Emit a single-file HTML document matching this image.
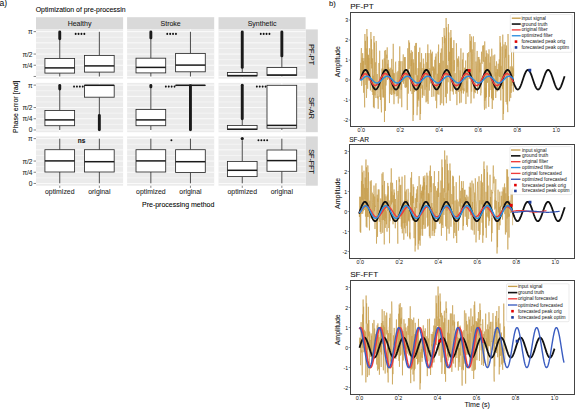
<!DOCTYPE html>
<html><head><meta charset="utf-8"><style>
html,body{margin:0;padding:0;background:#fff;overflow:hidden;}
svg{display:block;}
text{font-family:"Liberation Sans",sans-serif;}
</style></head><body>
<svg width="575" height="409" viewBox="0 0 575 409">
<rect width="575" height="409" fill="#fff"/>
<text stroke="#111" stroke-width="0.07" x="-0.4" y="5.6" font-size="8.5" font-family="Liberation Sans, sans-serif" fill="#111">a)</text>
<text stroke="#000" stroke-width="0.07" x="35.7" y="11.6" font-size="7" font-family="Liberation Sans, sans-serif" fill="#000" textLength="90" lengthAdjust="spacingAndGlyphs">Optimization of pre-processin</text>
<rect x="36" y="17.2" width="87.1" height="12.2" fill="#D9D9D9"/>
<text stroke="#1a1a1a" stroke-width="0.07" x="79.55" y="26.4" font-size="7" font-family="Liberation Sans, sans-serif" fill="#1a1a1a" text-anchor="middle">Healthy</text>
<rect x="127.1" y="17.2" width="87.1" height="12.2" fill="#D9D9D9"/>
<text stroke="#1a1a1a" stroke-width="0.07" x="170.65" y="26.4" font-size="7" font-family="Liberation Sans, sans-serif" fill="#1a1a1a" text-anchor="middle">Stroke</text>
<rect x="218.5" y="17.2" width="87.1" height="12.2" fill="#D9D9D9"/>
<text stroke="#1a1a1a" stroke-width="0.07" x="262.05" y="26.4" font-size="7" font-family="Liberation Sans, sans-serif" fill="#1a1a1a" text-anchor="middle">Synthetic</text>
<rect x="305.6" y="29.4" width="12.2" height="49.3" fill="#D9D9D9"/>
<text stroke="#111" stroke-width="0.07" x="311.7" y="54.65" font-size="7.2" font-family="Liberation Sans, sans-serif" fill="#111" text-anchor="middle" dominant-baseline="central" transform="rotate(90 311.7 54.65)">PF-PT</text>
<rect x="305.6" y="82.9" width="12.2" height="49.3" fill="#D9D9D9"/>
<text stroke="#111" stroke-width="0.07" x="311.7" y="108.15" font-size="7.2" font-family="Liberation Sans, sans-serif" fill="#111" text-anchor="middle" dominant-baseline="central" transform="rotate(90 311.7 108.15)">SF-AR</text>
<rect x="305.6" y="136.4" width="12.2" height="49.3" fill="#D9D9D9"/>
<text stroke="#111" stroke-width="0.07" x="311.7" y="161.65" font-size="7.2" font-family="Liberation Sans, sans-serif" fill="#111" text-anchor="middle" dominant-baseline="central" transform="rotate(90 311.7 161.65)">SF-FFT</text>
<rect x="36" y="29.4" width="87.1" height="49.3" fill="#EBEBEB"/>
<line x1="36" x2="123.1" y1="37.24" y2="37.24" stroke="#fff" stroke-width="0.5"/>
<line x1="36" x2="123.1" y1="48.45" y2="48.45" stroke="#fff" stroke-width="0.5"/>
<line x1="36" x2="123.1" y1="59.65" y2="59.65" stroke="#fff" stroke-width="0.5"/>
<line x1="36" x2="123.1" y1="70.86" y2="70.86" stroke="#fff" stroke-width="0.5"/>
<line x1="36" x2="123.1" y1="76.46" y2="76.46" stroke="#fff" stroke-width="0.8"/>
<line x1="36" x2="123.1" y1="65.25" y2="65.25" stroke="#fff" stroke-width="0.8"/>
<line x1="36" x2="123.1" y1="54.05" y2="54.05" stroke="#fff" stroke-width="0.8"/>
<line x1="36" x2="123.1" y1="42.85" y2="42.85" stroke="#fff" stroke-width="0.8"/>
<line x1="36" x2="123.1" y1="31.64" y2="31.64" stroke="#fff" stroke-width="0.8"/>
<line x1="59.75" x2="59.75" y1="29.4" y2="78.7" stroke="#fff" stroke-width="0.9"/>
<line x1="99.35" x2="99.35" y1="29.4" y2="78.7" stroke="#fff" stroke-width="0.9"/>
<rect x="127.1" y="29.4" width="87.1" height="49.3" fill="#EBEBEB"/>
<line x1="127.1" x2="214.2" y1="37.24" y2="37.24" stroke="#fff" stroke-width="0.5"/>
<line x1="127.1" x2="214.2" y1="48.45" y2="48.45" stroke="#fff" stroke-width="0.5"/>
<line x1="127.1" x2="214.2" y1="59.65" y2="59.65" stroke="#fff" stroke-width="0.5"/>
<line x1="127.1" x2="214.2" y1="70.86" y2="70.86" stroke="#fff" stroke-width="0.5"/>
<line x1="127.1" x2="214.2" y1="76.46" y2="76.46" stroke="#fff" stroke-width="0.8"/>
<line x1="127.1" x2="214.2" y1="65.25" y2="65.25" stroke="#fff" stroke-width="0.8"/>
<line x1="127.1" x2="214.2" y1="54.05" y2="54.05" stroke="#fff" stroke-width="0.8"/>
<line x1="127.1" x2="214.2" y1="42.85" y2="42.85" stroke="#fff" stroke-width="0.8"/>
<line x1="127.1" x2="214.2" y1="31.64" y2="31.64" stroke="#fff" stroke-width="0.8"/>
<line x1="150.85" x2="150.85" y1="29.4" y2="78.7" stroke="#fff" stroke-width="0.9"/>
<line x1="190.45" x2="190.45" y1="29.4" y2="78.7" stroke="#fff" stroke-width="0.9"/>
<rect x="218.5" y="29.4" width="87.1" height="49.3" fill="#EBEBEB"/>
<line x1="218.5" x2="305.6" y1="37.24" y2="37.24" stroke="#fff" stroke-width="0.5"/>
<line x1="218.5" x2="305.6" y1="48.45" y2="48.45" stroke="#fff" stroke-width="0.5"/>
<line x1="218.5" x2="305.6" y1="59.65" y2="59.65" stroke="#fff" stroke-width="0.5"/>
<line x1="218.5" x2="305.6" y1="70.86" y2="70.86" stroke="#fff" stroke-width="0.5"/>
<line x1="218.5" x2="305.6" y1="76.46" y2="76.46" stroke="#fff" stroke-width="0.8"/>
<line x1="218.5" x2="305.6" y1="65.25" y2="65.25" stroke="#fff" stroke-width="0.8"/>
<line x1="218.5" x2="305.6" y1="54.05" y2="54.05" stroke="#fff" stroke-width="0.8"/>
<line x1="218.5" x2="305.6" y1="42.85" y2="42.85" stroke="#fff" stroke-width="0.8"/>
<line x1="218.5" x2="305.6" y1="31.64" y2="31.64" stroke="#fff" stroke-width="0.8"/>
<line x1="242.25" x2="242.25" y1="29.4" y2="78.7" stroke="#fff" stroke-width="0.9"/>
<line x1="281.85" x2="281.85" y1="29.4" y2="78.7" stroke="#fff" stroke-width="0.9"/>
<rect x="36" y="82.9" width="87.1" height="49.3" fill="#EBEBEB"/>
<line x1="36" x2="123.1" y1="90.74" y2="90.74" stroke="#fff" stroke-width="0.5"/>
<line x1="36" x2="123.1" y1="101.95" y2="101.95" stroke="#fff" stroke-width="0.5"/>
<line x1="36" x2="123.1" y1="113.15" y2="113.15" stroke="#fff" stroke-width="0.5"/>
<line x1="36" x2="123.1" y1="124.36" y2="124.36" stroke="#fff" stroke-width="0.5"/>
<line x1="36" x2="123.1" y1="129.96" y2="129.96" stroke="#fff" stroke-width="0.8"/>
<line x1="36" x2="123.1" y1="118.75" y2="118.75" stroke="#fff" stroke-width="0.8"/>
<line x1="36" x2="123.1" y1="107.55" y2="107.55" stroke="#fff" stroke-width="0.8"/>
<line x1="36" x2="123.1" y1="96.35" y2="96.35" stroke="#fff" stroke-width="0.8"/>
<line x1="36" x2="123.1" y1="85.14" y2="85.14" stroke="#fff" stroke-width="0.8"/>
<line x1="59.75" x2="59.75" y1="82.9" y2="132.2" stroke="#fff" stroke-width="0.9"/>
<line x1="99.35" x2="99.35" y1="82.9" y2="132.2" stroke="#fff" stroke-width="0.9"/>
<rect x="127.1" y="82.9" width="87.1" height="49.3" fill="#EBEBEB"/>
<line x1="127.1" x2="214.2" y1="90.74" y2="90.74" stroke="#fff" stroke-width="0.5"/>
<line x1="127.1" x2="214.2" y1="101.95" y2="101.95" stroke="#fff" stroke-width="0.5"/>
<line x1="127.1" x2="214.2" y1="113.15" y2="113.15" stroke="#fff" stroke-width="0.5"/>
<line x1="127.1" x2="214.2" y1="124.36" y2="124.36" stroke="#fff" stroke-width="0.5"/>
<line x1="127.1" x2="214.2" y1="129.96" y2="129.96" stroke="#fff" stroke-width="0.8"/>
<line x1="127.1" x2="214.2" y1="118.75" y2="118.75" stroke="#fff" stroke-width="0.8"/>
<line x1="127.1" x2="214.2" y1="107.55" y2="107.55" stroke="#fff" stroke-width="0.8"/>
<line x1="127.1" x2="214.2" y1="96.35" y2="96.35" stroke="#fff" stroke-width="0.8"/>
<line x1="127.1" x2="214.2" y1="85.14" y2="85.14" stroke="#fff" stroke-width="0.8"/>
<line x1="150.85" x2="150.85" y1="82.9" y2="132.2" stroke="#fff" stroke-width="0.9"/>
<line x1="190.45" x2="190.45" y1="82.9" y2="132.2" stroke="#fff" stroke-width="0.9"/>
<rect x="218.5" y="82.9" width="87.1" height="49.3" fill="#EBEBEB"/>
<line x1="218.5" x2="305.6" y1="90.74" y2="90.74" stroke="#fff" stroke-width="0.5"/>
<line x1="218.5" x2="305.6" y1="101.95" y2="101.95" stroke="#fff" stroke-width="0.5"/>
<line x1="218.5" x2="305.6" y1="113.15" y2="113.15" stroke="#fff" stroke-width="0.5"/>
<line x1="218.5" x2="305.6" y1="124.36" y2="124.36" stroke="#fff" stroke-width="0.5"/>
<line x1="218.5" x2="305.6" y1="129.96" y2="129.96" stroke="#fff" stroke-width="0.8"/>
<line x1="218.5" x2="305.6" y1="118.75" y2="118.75" stroke="#fff" stroke-width="0.8"/>
<line x1="218.5" x2="305.6" y1="107.55" y2="107.55" stroke="#fff" stroke-width="0.8"/>
<line x1="218.5" x2="305.6" y1="96.35" y2="96.35" stroke="#fff" stroke-width="0.8"/>
<line x1="218.5" x2="305.6" y1="85.14" y2="85.14" stroke="#fff" stroke-width="0.8"/>
<line x1="242.25" x2="242.25" y1="82.9" y2="132.2" stroke="#fff" stroke-width="0.9"/>
<line x1="281.85" x2="281.85" y1="82.9" y2="132.2" stroke="#fff" stroke-width="0.9"/>
<rect x="36" y="136.4" width="87.1" height="49.3" fill="#EBEBEB"/>
<line x1="36" x2="123.1" y1="144.24" y2="144.24" stroke="#fff" stroke-width="0.5"/>
<line x1="36" x2="123.1" y1="155.45" y2="155.45" stroke="#fff" stroke-width="0.5"/>
<line x1="36" x2="123.1" y1="166.65" y2="166.65" stroke="#fff" stroke-width="0.5"/>
<line x1="36" x2="123.1" y1="177.86" y2="177.86" stroke="#fff" stroke-width="0.5"/>
<line x1="36" x2="123.1" y1="183.46" y2="183.46" stroke="#fff" stroke-width="0.8"/>
<line x1="36" x2="123.1" y1="172.25" y2="172.25" stroke="#fff" stroke-width="0.8"/>
<line x1="36" x2="123.1" y1="161.05" y2="161.05" stroke="#fff" stroke-width="0.8"/>
<line x1="36" x2="123.1" y1="149.85" y2="149.85" stroke="#fff" stroke-width="0.8"/>
<line x1="36" x2="123.1" y1="138.64" y2="138.64" stroke="#fff" stroke-width="0.8"/>
<line x1="59.75" x2="59.75" y1="136.4" y2="185.7" stroke="#fff" stroke-width="0.9"/>
<line x1="99.35" x2="99.35" y1="136.4" y2="185.7" stroke="#fff" stroke-width="0.9"/>
<rect x="127.1" y="136.4" width="87.1" height="49.3" fill="#EBEBEB"/>
<line x1="127.1" x2="214.2" y1="144.24" y2="144.24" stroke="#fff" stroke-width="0.5"/>
<line x1="127.1" x2="214.2" y1="155.45" y2="155.45" stroke="#fff" stroke-width="0.5"/>
<line x1="127.1" x2="214.2" y1="166.65" y2="166.65" stroke="#fff" stroke-width="0.5"/>
<line x1="127.1" x2="214.2" y1="177.86" y2="177.86" stroke="#fff" stroke-width="0.5"/>
<line x1="127.1" x2="214.2" y1="183.46" y2="183.46" stroke="#fff" stroke-width="0.8"/>
<line x1="127.1" x2="214.2" y1="172.25" y2="172.25" stroke="#fff" stroke-width="0.8"/>
<line x1="127.1" x2="214.2" y1="161.05" y2="161.05" stroke="#fff" stroke-width="0.8"/>
<line x1="127.1" x2="214.2" y1="149.85" y2="149.85" stroke="#fff" stroke-width="0.8"/>
<line x1="127.1" x2="214.2" y1="138.64" y2="138.64" stroke="#fff" stroke-width="0.8"/>
<line x1="150.85" x2="150.85" y1="136.4" y2="185.7" stroke="#fff" stroke-width="0.9"/>
<line x1="190.45" x2="190.45" y1="136.4" y2="185.7" stroke="#fff" stroke-width="0.9"/>
<rect x="218.5" y="136.4" width="87.1" height="49.3" fill="#EBEBEB"/>
<line x1="218.5" x2="305.6" y1="144.24" y2="144.24" stroke="#fff" stroke-width="0.5"/>
<line x1="218.5" x2="305.6" y1="155.45" y2="155.45" stroke="#fff" stroke-width="0.5"/>
<line x1="218.5" x2="305.6" y1="166.65" y2="166.65" stroke="#fff" stroke-width="0.5"/>
<line x1="218.5" x2="305.6" y1="177.86" y2="177.86" stroke="#fff" stroke-width="0.5"/>
<line x1="218.5" x2="305.6" y1="183.46" y2="183.46" stroke="#fff" stroke-width="0.8"/>
<line x1="218.5" x2="305.6" y1="172.25" y2="172.25" stroke="#fff" stroke-width="0.8"/>
<line x1="218.5" x2="305.6" y1="161.05" y2="161.05" stroke="#fff" stroke-width="0.8"/>
<line x1="218.5" x2="305.6" y1="149.85" y2="149.85" stroke="#fff" stroke-width="0.8"/>
<line x1="218.5" x2="305.6" y1="138.64" y2="138.64" stroke="#fff" stroke-width="0.8"/>
<line x1="242.25" x2="242.25" y1="136.4" y2="185.7" stroke="#fff" stroke-width="0.9"/>
<line x1="281.85" x2="281.85" y1="136.4" y2="185.7" stroke="#fff" stroke-width="0.9"/>
<line x1="33.6" x2="36" y1="31.64" y2="31.64" stroke="#333" stroke-width="0.6"/>
<text stroke="#262626" stroke-width="0.07" x="32.5" y="31.64" font-size="6.6" font-family="Liberation Sans, sans-serif" fill="#262626" text-anchor="end" dominant-baseline="central">π</text>
<line x1="33.6" x2="36" y1="54.05" y2="54.05" stroke="#333" stroke-width="0.6"/>
<text stroke="#262626" stroke-width="0.07" x="32.5" y="54.05" font-size="6.6" font-family="Liberation Sans, sans-serif" fill="#262626" text-anchor="end" dominant-baseline="central">π/2</text>
<line x1="33.6" x2="36" y1="65.25" y2="65.25" stroke="#333" stroke-width="0.6"/>
<text stroke="#262626" stroke-width="0.07" x="32.5" y="65.25" font-size="6.6" font-family="Liberation Sans, sans-serif" fill="#262626" text-anchor="end" dominant-baseline="central">π/4</text>
<line x1="33.6" x2="36" y1="76.46" y2="76.46" stroke="#333" stroke-width="0.6"/>
<line x1="33.6" x2="36" y1="85.14" y2="85.14" stroke="#333" stroke-width="0.6"/>
<text stroke="#262626" stroke-width="0.07" x="32.5" y="85.14" font-size="6.6" font-family="Liberation Sans, sans-serif" fill="#262626" text-anchor="end" dominant-baseline="central">π</text>
<line x1="33.6" x2="36" y1="107.55" y2="107.55" stroke="#333" stroke-width="0.6"/>
<text stroke="#262626" stroke-width="0.07" x="32.5" y="107.55" font-size="6.6" font-family="Liberation Sans, sans-serif" fill="#262626" text-anchor="end" dominant-baseline="central">π/2</text>
<line x1="33.6" x2="36" y1="118.75" y2="118.75" stroke="#333" stroke-width="0.6"/>
<text stroke="#262626" stroke-width="0.07" x="32.5" y="118.75" font-size="6.6" font-family="Liberation Sans, sans-serif" fill="#262626" text-anchor="end" dominant-baseline="central">π/4</text>
<line x1="33.6" x2="36" y1="129.96" y2="129.96" stroke="#333" stroke-width="0.6"/>
<text stroke="#262626" stroke-width="0.07" x="32.5" y="129.96" font-size="6.6" font-family="Liberation Sans, sans-serif" fill="#262626" text-anchor="end" dominant-baseline="central">0</text>
<line x1="33.6" x2="36" y1="138.64" y2="138.64" stroke="#333" stroke-width="0.6"/>
<text stroke="#262626" stroke-width="0.07" x="32.5" y="138.64" font-size="6.6" font-family="Liberation Sans, sans-serif" fill="#262626" text-anchor="end" dominant-baseline="central">π</text>
<line x1="33.6" x2="36" y1="161.05" y2="161.05" stroke="#333" stroke-width="0.6"/>
<text stroke="#262626" stroke-width="0.07" x="32.5" y="161.05" font-size="6.6" font-family="Liberation Sans, sans-serif" fill="#262626" text-anchor="end" dominant-baseline="central">π/2</text>
<line x1="33.6" x2="36" y1="172.25" y2="172.25" stroke="#333" stroke-width="0.6"/>
<text stroke="#262626" stroke-width="0.07" x="32.5" y="172.25" font-size="6.6" font-family="Liberation Sans, sans-serif" fill="#262626" text-anchor="end" dominant-baseline="central">π/4</text>
<line x1="33.6" x2="36" y1="183.46" y2="183.46" stroke="#333" stroke-width="0.6"/>
<text stroke="#262626" stroke-width="0.07" x="32.5" y="183.46" font-size="6.6" font-family="Liberation Sans, sans-serif" fill="#262626" text-anchor="end" dominant-baseline="central">0</text>
<line x1="59.75" x2="59.75" y1="185.7" y2="187.9" stroke="#333" stroke-width="0.6"/>
<text stroke="#262626" stroke-width="0.07" x="59.75" y="193.6" font-size="6.9" font-family="Liberation Sans, sans-serif" fill="#262626" text-anchor="middle">optimized</text>
<line x1="99.35" x2="99.35" y1="185.7" y2="187.9" stroke="#333" stroke-width="0.6"/>
<text stroke="#262626" stroke-width="0.07" x="99.35" y="193.6" font-size="6.9" font-family="Liberation Sans, sans-serif" fill="#262626" text-anchor="middle">original</text>
<line x1="150.85" x2="150.85" y1="185.7" y2="187.9" stroke="#333" stroke-width="0.6"/>
<text stroke="#262626" stroke-width="0.07" x="150.85" y="193.6" font-size="6.9" font-family="Liberation Sans, sans-serif" fill="#262626" text-anchor="middle">optimized</text>
<line x1="190.45" x2="190.45" y1="185.7" y2="187.9" stroke="#333" stroke-width="0.6"/>
<text stroke="#262626" stroke-width="0.07" x="190.45" y="193.6" font-size="6.9" font-family="Liberation Sans, sans-serif" fill="#262626" text-anchor="middle">original</text>
<line x1="242.25" x2="242.25" y1="185.7" y2="187.9" stroke="#333" stroke-width="0.6"/>
<text stroke="#262626" stroke-width="0.07" x="242.25" y="193.6" font-size="6.9" font-family="Liberation Sans, sans-serif" fill="#262626" text-anchor="middle">optimized</text>
<line x1="281.85" x2="281.85" y1="185.7" y2="187.9" stroke="#333" stroke-width="0.6"/>
<text stroke="#262626" stroke-width="0.07" x="281.85" y="193.6" font-size="6.9" font-family="Liberation Sans, sans-serif" fill="#262626" text-anchor="middle">original</text>
<text stroke="#000" stroke-width="0.07" x="178.2" y="206.6" font-size="7" font-family="Liberation Sans, sans-serif" fill="#000" text-anchor="middle">Pre-processing method</text>
<text stroke="#000" stroke-width="0.07" x="0" y="0" font-size="7" font-family="Liberation Sans, sans-serif" fill="#000" text-anchor="middle" transform="translate(18.2 106.7) rotate(-90)">Phase error [rad]</text>
<line x1="59.75" x2="59.75" y1="39" y2="58.5" stroke="#2b2b2b" stroke-width="0.85"/>
<line x1="59.75" x2="59.75" y1="73.1" y2="76.5" stroke="#2b2b2b" stroke-width="0.85"/>
<line x1="59.75" x2="59.75" y1="32" y2="38.7" stroke="#1a1a1a" stroke-width="2.9" stroke-linecap="round"/>
<rect x="44.91" y="58.5" width="29.69" height="14.6" fill="#fff" stroke="#2b2b2b" stroke-width="0.85"/>
<line x1="44.91" x2="74.6" y1="67.9" y2="67.9" stroke="#1a1a1a" stroke-width="1.5"/>
<line x1="99.35" x2="99.35" y1="31.8" y2="55.4" stroke="#2b2b2b" stroke-width="0.85"/>
<line x1="99.35" x2="99.35" y1="72.1" y2="76.5" stroke="#2b2b2b" stroke-width="0.85"/>
<rect x="84.5" y="55.4" width="29.69" height="16.7" fill="#fff" stroke="#2b2b2b" stroke-width="0.85"/>
<line x1="84.5" x2="114.19" y1="65.9" y2="65.9" stroke="#1a1a1a" stroke-width="1.5"/>
<line x1="150.85" x2="150.85" y1="38.2" y2="58.2" stroke="#2b2b2b" stroke-width="0.85"/>
<line x1="150.85" x2="150.85" y1="72.9" y2="76.5" stroke="#2b2b2b" stroke-width="0.85"/>
<line x1="150.85" x2="150.85" y1="32" y2="37.9" stroke="#1a1a1a" stroke-width="2.9" stroke-linecap="round"/>
<rect x="136.01" y="58.2" width="29.69" height="14.7" fill="#fff" stroke="#2b2b2b" stroke-width="0.85"/>
<line x1="136.01" x2="165.7" y1="67.4" y2="67.4" stroke="#1a1a1a" stroke-width="1.5"/>
<line x1="190.45" x2="190.45" y1="31.8" y2="53.4" stroke="#2b2b2b" stroke-width="0.85"/>
<line x1="190.45" x2="190.45" y1="71.8" y2="76.5" stroke="#2b2b2b" stroke-width="0.85"/>
<rect x="175.6" y="53.4" width="29.69" height="18.4" fill="#fff" stroke="#2b2b2b" stroke-width="0.85"/>
<line x1="175.6" x2="205.29" y1="65.1" y2="65.1" stroke="#1a1a1a" stroke-width="1.5"/>
<line x1="242.25" x2="242.25" y1="67.7" y2="72.5" stroke="#2b2b2b" stroke-width="0.85"/>
<line x1="242.25" x2="242.25" y1="75.9" y2="76.3" stroke="#2b2b2b" stroke-width="0.85"/>
<line x1="242.25" x2="242.25" y1="32" y2="67.4" stroke="#1a1a1a" stroke-width="2.9" stroke-linecap="round"/>
<rect x="227.41" y="72.5" width="29.69" height="3.4" fill="#fff" stroke="#2b2b2b" stroke-width="0.85"/>
<line x1="227.41" x2="257.1" y1="75.6" y2="75.6" stroke="#1a1a1a" stroke-width="1.5"/>
<line x1="281.85" x2="281.85" y1="56.2" y2="67.5" stroke="#2b2b2b" stroke-width="0.85"/>
<line x1="281.85" x2="281.85" y1="75.3" y2="76.3" stroke="#2b2b2b" stroke-width="0.85"/>
<line x1="281.85" x2="281.85" y1="32" y2="55.9" stroke="#1a1a1a" stroke-width="2.9" stroke-linecap="round"/>
<rect x="267" y="67.5" width="29.69" height="7.8" fill="#fff" stroke="#2b2b2b" stroke-width="0.85"/>
<line x1="267" x2="296.69" y1="75" y2="75" stroke="#1a1a1a" stroke-width="1.5"/>
<line x1="59.75" x2="59.75" y1="89.4" y2="110.5" stroke="#2b2b2b" stroke-width="0.85"/>
<line x1="59.75" x2="59.75" y1="125.7" y2="130" stroke="#2b2b2b" stroke-width="0.85"/>
<line x1="59.75" x2="59.75" y1="85.5" y2="89.1" stroke="#1a1a1a" stroke-width="2.9" stroke-linecap="round"/>
<rect x="44.91" y="110.5" width="29.69" height="15.2" fill="#fff" stroke="#2b2b2b" stroke-width="0.85"/>
<line x1="44.91" x2="74.6" y1="119.9" y2="119.9" stroke="#1a1a1a" stroke-width="1.5"/>
<line x1="99.35" x2="99.35" y1="97.2" y2="115.2" stroke="#2b2b2b" stroke-width="0.85"/>
<line x1="99.35" x2="99.35" y1="115.5" y2="129.7" stroke="#1a1a1a" stroke-width="2.9" stroke-linecap="round"/>
<rect x="84.5" y="85.3" width="29.69" height="11.9" fill="#fff" stroke="#2b2b2b" stroke-width="0.85"/>
<line x1="84.5" x2="114.19" y1="85.3" y2="85.3" stroke="#1a1a1a" stroke-width="1.5"/>
<line x1="150.85" x2="150.85" y1="87.5" y2="109.4" stroke="#2b2b2b" stroke-width="0.85"/>
<line x1="150.85" x2="150.85" y1="125.7" y2="130" stroke="#2b2b2b" stroke-width="0.85"/>
<line x1="150.85" x2="150.85" y1="85.5" y2="86.9" stroke="#1a1a1a" stroke-width="2.9" stroke-linecap="round"/>
<rect x="136.01" y="109.4" width="29.69" height="16.3" fill="#fff" stroke="#2b2b2b" stroke-width="0.85"/>
<line x1="136.01" x2="165.7" y1="119.9" y2="119.9" stroke="#1a1a1a" stroke-width="1.5"/>
<line x1="190.45" x2="190.45" y1="85.6" y2="129.7" stroke="#1a1a1a" stroke-width="2.9" stroke-linecap="round"/>
<rect x="175.6" y="85.3" width="29.69" height="0.01" fill="#fff" stroke="#2b2b2b" stroke-width="0.85"/>
<line x1="175.6" x2="205.29" y1="85.3" y2="85.3" stroke="#1a1a1a" stroke-width="1.5"/>
<line x1="242.25" x2="242.25" y1="119.1" y2="125.4" stroke="#2b2b2b" stroke-width="0.85"/>
<line x1="242.25" x2="242.25" y1="129.4" y2="129.8" stroke="#2b2b2b" stroke-width="0.85"/>
<line x1="242.25" x2="242.25" y1="85.3" y2="118.8" stroke="#1a1a1a" stroke-width="2.9" stroke-linecap="round"/>
<rect x="227.41" y="125.4" width="29.69" height="4" fill="#fff" stroke="#2b2b2b" stroke-width="0.85"/>
<line x1="227.41" x2="257.1" y1="129.2" y2="129.2" stroke="#1a1a1a" stroke-width="1.5"/>
<line x1="281.85" x2="281.85" y1="128.2" y2="129.9" stroke="#2b2b2b" stroke-width="0.85"/>
<rect x="267" y="85.3" width="29.69" height="42.9" fill="#fff" stroke="#2b2b2b" stroke-width="0.85"/>
<line x1="267" x2="296.69" y1="125.4" y2="125.4" stroke="#1a1a1a" stroke-width="1.5"/>
<line x1="59.75" x2="59.75" y1="138.7" y2="149.7" stroke="#2b2b2b" stroke-width="0.85"/>
<line x1="59.75" x2="59.75" y1="172" y2="183.3" stroke="#2b2b2b" stroke-width="0.85"/>
<rect x="44.91" y="149.7" width="29.69" height="22.3" fill="#fff" stroke="#2b2b2b" stroke-width="0.85"/>
<line x1="44.91" x2="74.6" y1="160.9" y2="160.9" stroke="#1a1a1a" stroke-width="1.5"/>
<line x1="99.35" x2="99.35" y1="138.7" y2="149.7" stroke="#2b2b2b" stroke-width="0.85"/>
<line x1="99.35" x2="99.35" y1="172" y2="183.3" stroke="#2b2b2b" stroke-width="0.85"/>
<rect x="84.5" y="149.7" width="29.69" height="22.3" fill="#fff" stroke="#2b2b2b" stroke-width="0.85"/>
<line x1="84.5" x2="114.19" y1="161.7" y2="161.7" stroke="#1a1a1a" stroke-width="1.5"/>
<line x1="150.85" x2="150.85" y1="138.7" y2="149.7" stroke="#2b2b2b" stroke-width="0.85"/>
<line x1="150.85" x2="150.85" y1="172" y2="183.3" stroke="#2b2b2b" stroke-width="0.85"/>
<rect x="136.01" y="149.7" width="29.69" height="22.3" fill="#fff" stroke="#2b2b2b" stroke-width="0.85"/>
<line x1="136.01" x2="165.7" y1="160.9" y2="160.9" stroke="#1a1a1a" stroke-width="1.5"/>
<line x1="190.45" x2="190.45" y1="138.7" y2="149.7" stroke="#2b2b2b" stroke-width="0.85"/>
<line x1="190.45" x2="190.45" y1="172.5" y2="183.3" stroke="#2b2b2b" stroke-width="0.85"/>
<rect x="175.6" y="149.7" width="29.69" height="22.8" fill="#fff" stroke="#2b2b2b" stroke-width="0.85"/>
<line x1="175.6" x2="205.29" y1="161.7" y2="161.7" stroke="#1a1a1a" stroke-width="1.5"/>
<line x1="242.25" x2="242.25" y1="140.3" y2="161.4" stroke="#2b2b2b" stroke-width="0.85"/>
<line x1="242.25" x2="242.25" y1="176.6" y2="183.3" stroke="#2b2b2b" stroke-width="0.85"/>
<circle cx="242.25" cy="138.6" r="1.6" fill="#1a1a1a"/>
<rect x="227.41" y="161.4" width="29.69" height="15.2" fill="#fff" stroke="#2b2b2b" stroke-width="0.85"/>
<line x1="227.41" x2="257.1" y1="170.3" y2="170.3" stroke="#1a1a1a" stroke-width="1.5"/>
<line x1="281.85" x2="281.85" y1="138.7" y2="150" stroke="#2b2b2b" stroke-width="0.85"/>
<line x1="281.85" x2="281.85" y1="171.3" y2="183.3" stroke="#2b2b2b" stroke-width="0.85"/>
<rect x="267" y="150" width="29.69" height="21.3" fill="#fff" stroke="#2b2b2b" stroke-width="0.85"/>
<line x1="267" x2="296.69" y1="160.6" y2="160.6" stroke="#1a1a1a" stroke-width="1.5"/>
<ellipse cx="75.65" cy="33.9" rx="0.95" ry="1.05" fill="#111"/>
<ellipse cx="78.55" cy="33.9" rx="0.95" ry="1.05" fill="#111"/>
<ellipse cx="81.45" cy="33.9" rx="0.95" ry="1.05" fill="#111"/>
<ellipse cx="84.35" cy="33.9" rx="0.95" ry="1.05" fill="#111"/>
<ellipse cx="167.25" cy="33.9" rx="0.95" ry="1.05" fill="#111"/>
<ellipse cx="170.15" cy="33.9" rx="0.95" ry="1.05" fill="#111"/>
<ellipse cx="173.05" cy="33.9" rx="0.95" ry="1.05" fill="#111"/>
<ellipse cx="175.95" cy="33.9" rx="0.95" ry="1.05" fill="#111"/>
<ellipse cx="260.75" cy="33.9" rx="0.95" ry="1.05" fill="#111"/>
<ellipse cx="263.65" cy="33.9" rx="0.95" ry="1.05" fill="#111"/>
<ellipse cx="266.55" cy="33.9" rx="0.95" ry="1.05" fill="#111"/>
<ellipse cx="269.45" cy="33.9" rx="0.95" ry="1.05" fill="#111"/>
<ellipse cx="74.05" cy="86.6" rx="0.95" ry="1.05" fill="#111"/>
<ellipse cx="76.95" cy="86.6" rx="0.95" ry="1.05" fill="#111"/>
<ellipse cx="79.85" cy="86.6" rx="0.95" ry="1.05" fill="#111"/>
<ellipse cx="82.75" cy="86.6" rx="0.95" ry="1.05" fill="#111"/>
<ellipse cx="165.85" cy="86.6" rx="0.95" ry="1.05" fill="#111"/>
<ellipse cx="168.75" cy="86.6" rx="0.95" ry="1.05" fill="#111"/>
<ellipse cx="171.65" cy="86.6" rx="0.95" ry="1.05" fill="#111"/>
<ellipse cx="174.55" cy="86.6" rx="0.95" ry="1.05" fill="#111"/>
<ellipse cx="256.85" cy="86.6" rx="0.95" ry="1.05" fill="#111"/>
<ellipse cx="259.75" cy="86.6" rx="0.95" ry="1.05" fill="#111"/>
<ellipse cx="262.65" cy="86.6" rx="0.95" ry="1.05" fill="#111"/>
<ellipse cx="265.55" cy="86.6" rx="0.95" ry="1.05" fill="#111"/>
<text stroke="#111" stroke-width="0.07" x="81.5" y="143.2" font-size="6.5" font-weight="bold" font-family="Liberation Sans, sans-serif" fill="#111" text-anchor="middle">ns</text>
<ellipse cx="171.4" cy="140.3" rx="0.95" ry="1.05" fill="#111"/>
<ellipse cx="258.45" cy="140.3" rx="0.95" ry="1.05" fill="#111"/>
<ellipse cx="261.35" cy="140.3" rx="0.95" ry="1.05" fill="#111"/>
<ellipse cx="264.25" cy="140.3" rx="0.95" ry="1.05" fill="#111"/>
<ellipse cx="267.15" cy="140.3" rx="0.95" ry="1.05" fill="#111"/>
<text stroke="#111" stroke-width="0.07" x="329" y="5.8" font-size="7.6" font-family="Liberation Sans, sans-serif" fill="#111">b)</text>
<text stroke="#111" stroke-width="0.07" x="350.2" y="8.9" font-size="8" font-family="Liberation Sans, sans-serif" fill="#111" textLength="23.4" lengthAdjust="spacingAndGlyphs">PF-PT</text>
<text stroke="#111" stroke-width="0.07" x="0" y="0" font-size="7" font-family="Liberation Sans, sans-serif" fill="#111" text-anchor="middle" transform="translate(340.2 61.7) rotate(-90)">Amplitude</text>
<text x="348.1" y="20" font-size="5.2" font-family="Liberation Sans, sans-serif" fill="#111" text-anchor="end" dominant-baseline="central">3</text>
<line x1="348.7" x2="350.5" y1="20" y2="20" stroke="#333" stroke-width="0.5"/>
<text x="348.1" y="40" font-size="5.2" font-family="Liberation Sans, sans-serif" fill="#111" text-anchor="end" dominant-baseline="central">2</text>
<line x1="348.7" x2="350.5" y1="40" y2="40" stroke="#333" stroke-width="0.5"/>
<text x="348.1" y="60" font-size="5.2" font-family="Liberation Sans, sans-serif" fill="#111" text-anchor="end" dominant-baseline="central">1</text>
<line x1="348.7" x2="350.5" y1="60" y2="60" stroke="#333" stroke-width="0.5"/>
<text x="348.1" y="80" font-size="5.2" font-family="Liberation Sans, sans-serif" fill="#111" text-anchor="end" dominant-baseline="central">0</text>
<line x1="348.7" x2="350.5" y1="80" y2="80" stroke="#333" stroke-width="0.5"/>
<text x="348.1" y="100" font-size="5.2" font-family="Liberation Sans, sans-serif" fill="#111" text-anchor="end" dominant-baseline="central">-1</text>
<line x1="348.7" x2="350.5" y1="100" y2="100" stroke="#333" stroke-width="0.5"/>
<text x="348.1" y="120" font-size="5.2" font-family="Liberation Sans, sans-serif" fill="#111" text-anchor="end" dominant-baseline="central">-2</text>
<line x1="348.7" x2="350.5" y1="120" y2="120" stroke="#333" stroke-width="0.5"/>
<text x="361.2" y="132.1" font-size="5.4" font-family="Liberation Sans, sans-serif" fill="#111" text-anchor="middle">0.0</text>
<line x1="361.2" x2="361.2" y1="126.5" y2="128.3" stroke="#333" stroke-width="0.5"/>
<text x="400.2" y="132.1" font-size="5.4" font-family="Liberation Sans, sans-serif" fill="#111" text-anchor="middle">0.2</text>
<line x1="400.2" x2="400.2" y1="126.5" y2="128.3" stroke="#333" stroke-width="0.5"/>
<text x="439.2" y="132.1" font-size="5.4" font-family="Liberation Sans, sans-serif" fill="#111" text-anchor="middle">0.4</text>
<line x1="439.2" x2="439.2" y1="126.5" y2="128.3" stroke="#333" stroke-width="0.5"/>
<text x="478.2" y="132.1" font-size="5.4" font-family="Liberation Sans, sans-serif" fill="#111" text-anchor="middle">0.6</text>
<line x1="478.2" x2="478.2" y1="126.5" y2="128.3" stroke="#333" stroke-width="0.5"/>
<text x="517.2" y="132.1" font-size="5.4" font-family="Liberation Sans, sans-serif" fill="#111" text-anchor="middle">0.8</text>
<line x1="517.2" x2="517.2" y1="126.5" y2="128.3" stroke="#333" stroke-width="0.5"/>
<text x="556.2" y="132.1" font-size="5.4" font-family="Liberation Sans, sans-serif" fill="#111" text-anchor="middle">1.0</text>
<line x1="556.2" x2="556.2" y1="126.5" y2="128.3" stroke="#333" stroke-width="0.5"/>
<clipPath id="cp0"><rect x="350.5" y="12.5" width="224" height="114"/></clipPath>
<g clip-path="url(#cp0)">
<polyline points="360.4,80 360.65,62.9 360.9,75.5 361.15,52.21 361.4,48.09 361.65,85.82 361.9,83.05 362.15,57.95 362.41,73.5 362.66,53.18 362.91,74.8 363.16,69.3 363.41,61.1 363.66,92.71 363.91,58.13 364.16,83.32 364.41,96.21 364.66,107.39 364.91,34 365.16,64.7 365.41,40.9 365.66,57.74 365.91,84.95 366.17,48.49 366.42,97.86 366.67,93.76 366.92,29 367.17,79.22 367.42,36.65 367.67,88.75 367.92,54.56 368.17,74.92 368.42,55.16 368.67,80.48 368.92,58.11 369.17,76.38 369.42,48.31 369.67,52.47 369.92,67.76 370.18,82.94 370.43,90.38 370.68,47.6 370.93,32 371.18,64.06 371.43,39.2 371.68,68.42 371.93,49.35 372.18,91.97 372.43,58.4 372.68,86.97 372.93,95.02 373.18,75.76 373.43,107.14 373.68,73.25 373.94,36 374.19,108.22 374.44,42.6 374.69,50.17 374.94,95.27 375.19,69.32 375.44,63.36 375.69,62.3 375.94,98 376.19,40.96 376.44,51.62 376.69,71.53 376.94,85.4 377.19,74.03 377.44,93.33 377.7,98.36 377.95,96.31 378.2,108.81 378.45,89.44 378.7,89.8 378.95,62.98 379.2,74.09 379.45,79.38 379.7,50.73 379.95,96.91 380.2,81.88 380.45,100 380.7,80.11 380.95,100.3 381.2,106.66 381.45,112.35 381.71,76.03 381.96,68.64 382.21,89.37 382.46,59.64 382.71,89.9 382.96,97.36 383.21,68.79 383.46,97.42 383.71,72.66 383.96,61.33 384.21,58.45 384.46,122 384.71,50.7 384.96,61.29 385.21,61.62 385.47,110.9 385.72,49.97 385.97,85.5 386.22,82.32 386.47,75.98 386.72,54.72 386.97,58.23 387.22,47.39 387.47,79.9 387.72,63.82 387.97,79.17 388.22,59.9 388.47,72.12 388.72,67.27 388.97,73.17 389.23,69.36 389.48,103.06 389.73,68.86 389.98,75.92 390.23,94.18 390.48,77.52 390.73,67.78 390.98,89.86 391.23,87.31 391.48,95.01 391.73,58.92 391.98,90.4 392.23,80.47 392.48,69.67 392.73,86.64 392.98,94.64 393.24,43.82 393.49,92.7 393.74,72.86 393.99,104.2 394.24,73.33 394.49,85.52 394.74,94.16 394.99,80.76 395.24,71.13 395.49,62.47 395.74,61.68 395.99,91.86 396.24,96.3 396.49,94.88 396.74,84.24 397,72.37 397.25,78.09 397.5,85.55 397.75,96 398,70.91 398.25,103.52 398.5,74.78 398.75,66.5 399,60.94 399.25,86.56 399.5,88.45 399.75,46.4 400,98.53 400.25,61.25 400.5,80.32 400.76,76.91 401.01,72.99 401.26,89.84 401.51,78.32 401.76,107.21 402.01,61.18 402.26,68.9 402.51,82.05 402.76,68.65 403.01,63.98 403.26,54.42 403.51,83.71 403.76,75.94 404.01,80.74 404.26,70.21 404.52,57.17 404.77,74.49 405.02,87.37 405.27,57.06 405.52,74.68 405.77,87.87 406.02,72.1 406.27,76.17 406.52,87.1 406.77,77.26 407.02,69.32 407.27,109.98 407.52,72.95 407.77,48.25 408.02,70.87 408.27,93.64 408.53,70.94 408.78,40.3 409.03,50.11 409.28,68.83 409.53,42.66 409.78,58.05 410.03,65.41 410.28,72.73 410.53,91.17 410.78,53.17 411.03,66.09 411.28,50.27 411.53,80.84 411.78,59.47 412.03,93.95 412.29,53.95 412.54,51.81 412.79,84.16 413.04,121 413.29,59.32 413.54,114.85 413.79,62.84 414.04,83.12 414.29,91.9 414.54,91.88 414.79,45.84 415.04,60.99 415.29,74.72 415.54,66.43 415.79,43.15 416.05,91.05 416.3,42.93 416.55,77.37 416.8,77.82 417.05,115.21 417.3,105.81 417.55,75.34 417.8,106.66 418.05,68.16 418.3,99.14 418.55,52.08 418.8,100.63 419.05,93.78 419.3,82.53 419.55,67.52 419.8,47.64 420.06,120 420.31,62.27 420.56,114 420.81,77.7 421.06,84.21 421.31,88.56 421.56,53.14 421.81,82.57 422.06,68.16 422.31,97.81 422.56,85.43 422.81,94.82 423.06,80.06 423.31,58.68 423.56,78.72 423.82,63.74 424.07,95.85 424.32,69.84 424.57,79.09 424.82,68.64 425.07,89.72 425.32,65.36 425.57,53.17 425.82,60.63 426.07,102.35 426.32,78.39 426.57,86.99 426.82,62.2 427.07,101.33 427.32,53 427.58,77.16 427.83,44.44 428.08,103.88 428.33,77.37 428.58,58.83 428.83,53.14 429.08,53.38 429.33,90.54 429.58,80.3 429.83,68.25 430.08,83.44 430.33,83.12 430.58,49.78 430.83,60.16 431.08,81.91 431.33,73.57 431.59,53.49 431.84,97.01 432.09,58.02 432.34,51.69 432.59,70.57 432.84,68.41 433.09,66.39 433.34,77.52 433.59,67.01 433.84,96.52 434.09,71.11 434.34,68.62 434.59,79.57 434.84,59.88 435.09,74.51 435.35,57.49 435.6,56.67 435.85,100.69 436.1,53.52 436.35,79.86 436.6,108.22 436.85,100.31 437.1,83.45 437.35,73.84 437.6,94.19 437.85,93.27 438.1,51.76 438.35,83.83 438.6,44.56 438.85,94.74 439.11,64.78 439.36,82.25 439.61,62.97 439.86,65.16 440.11,71.35 440.36,105.12 440.61,52.82 440.86,86.27 441.11,60.96 441.36,48.49 441.61,97.06 441.86,103.3 442.11,62.09 442.36,37.05 442.61,45.61 442.87,75.57 443.12,60.78 443.37,95.33 443.62,105.48 443.87,67.11 444.12,28 444.37,43.24 444.62,35.8 444.87,69.48 445.12,38.1 445.37,97.1 445.62,81.82 445.87,59.11 446.12,18 446.37,103.18 446.62,27.3 446.88,87.37 447.13,87.41 447.38,93.58 447.63,65.27 447.88,69.31 448.13,82.21 448.38,24 448.63,61.02 448.88,32.4 449.13,76.1 449.38,72.96 449.63,51.82 449.88,98.68 450.13,100.83 450.38,38.11 450.64,91.08 450.89,30 451.14,73.37 451.39,37.5 451.64,76.06 451.89,48.12 452.14,84.19 452.39,91.49 452.64,86.83 452.89,48 453.14,69.12 453.39,94.5 453.64,64.52 453.89,40.15 454.14,71.21 454.4,60.14 454.65,85.48 454.9,75.99 455.15,73.14 455.4,86.06 455.65,88.72 455.9,93.83 456.15,91.39 456.4,43.22 456.65,58.84 456.9,105.13 457.15,81.61 457.4,65.63 457.65,58.51 457.9,66.77 458.15,59.82 458.41,91.82 458.66,56.3 458.91,60.95 459.16,62.22 459.41,95.03 459.66,103.27 459.91,75.56 460.16,70.29 460.41,91.16 460.66,73.06 460.91,48.32 461.16,102.58 461.41,80.92 461.66,93.22 461.91,84.7 462.17,74.56 462.42,59.49 462.67,90.21 462.92,86.25 463.17,52.69 463.42,93.58 463.67,90.58 463.92,88.36 464.17,91.23 464.42,85.38 464.67,67.73 464.92,71.26 465.17,80 465.42,73.53 465.67,60.51 465.93,104.06 466.18,69.36 466.43,79.13 466.68,92.5 466.93,81.32 467.18,92.34 467.43,53.12 467.68,91.29 467.93,96.7 468.18,57.66 468.43,57.31 468.68,52.02 468.93,52.36 469.18,79.05 469.43,75.19 469.68,74.83 469.94,34 470.19,52.26 470.44,40.9 470.69,62.31 470.94,103.39 471.19,101.18 471.44,36.5 471.69,91.64 471.94,82.81 472.19,49.37 472.44,53.47 472.69,80.28 472.94,68.98 473.19,38.33 473.44,36.37 473.7,88.87 473.95,98.41 474.2,84.9 474.45,91.98 474.7,51.69 474.95,42.08 475.2,93.1 475.45,90.25 475.7,85.52 475.95,61.52 476.2,65.73 476.45,80.95 476.7,65.15 476.95,59.46 477.2,50.94 477.46,93.74 477.71,63.37 477.96,60.67 478.21,57.06 478.46,77.89 478.71,83.78 478.96,56.96 479.21,87.77 479.46,77.86 479.71,59.46 479.96,72.34 480.21,62.74 480.46,71.37 480.71,95.41 480.96,93.14 481.22,92.86 481.47,51.71 481.72,63.03 481.97,63.3 482.22,63.77 482.47,54.88 482.72,45.7 482.97,54.84 483.22,61.22 483.47,45.27 483.72,61.82 483.97,60.47 484.22,105.15 484.47,109.79 484.72,41.41 484.97,100.79 485.23,87.82 485.48,98.25 485.73,56.84 485.98,108.46 486.23,50.48 486.48,97.19 486.73,58.61 486.98,53.11 487.23,62.84 487.48,82.75 487.73,79.79 487.98,64.21 488.23,54.22 488.48,87.71 488.73,106.86 488.99,49.35 489.24,73.41 489.49,96.82 489.74,79.31 489.99,62.64 490.24,74.8 490.49,56.66 490.74,87.71 490.99,90 491.24,73.07 491.49,98.37 491.74,48.68 491.99,60.2 492.24,108.92 492.49,79.12 492.75,99.88 493,56.54 493.25,55.41 493.5,100.24 493.75,78.2 494,87.12 494.25,88.19 494.5,60.38 494.75,54.54 495,76.42 495.25,65.9 495.5,78.15 495.75,97.96 496,72.38 496.25,81.05 496.5,61.39 496.76,68.23 497.01,91.54 497.26,69.22 497.51,89.18 497.76,69.32 498.01,76.08 498.26,63.72 498.51,69.71 498.76,80.45 499.01,90.36 499.26,59.37 499.51,76.97 499.76,62.07 500.01,36 500.26,76.69 500.52,42.6 500.77,100.4 501.02,66.23 501.27,86.09 501.52,65.58 501.77,64.92 502.02,46.5 502.27,78.72 502.52,88.78 502.77,34.65 503.02,120 503.27,80.43 503.52,114 503.77,94.95 504.02,44.51 504.28,58.04 504.53,57.88 504.78,79.09 505.03,51.61 505.28,41.98 505.53,57.56 505.78,48.76 506.03,101.95 506.28,63.46 506.53,45.51 506.78,78.3 507.03,104.46 507.28,71.01 507.53,106.73 507.78,112.14 508.03,34 508.29,58.38 508.54,68.97 508.79,54.89 509.04,69.76 509.29,80.29 509.54,101.27 509.79,97.47 510.04,72.17 510.29,66.45 510.54,93.88 510.79,97.86 511.04,77.27 511.29,92.8 511.54,48.32 511.79,85.73 512.05,81.17 512.3,66.42 512.55,83.06 512.8,80.45 513.05,68.29 513.3,91.68 513.55,46.61 513.8,76.18" fill="none" stroke="#C69E4C" stroke-width="0.8" stroke-linejoin="round" stroke-opacity="0.8"/>
<polyline points="360.4,79.78 360.73,78.77 361.07,77.76 361.4,76.78 361.73,75.84 362.07,74.93 362.4,74.07 362.74,73.27 363.07,72.55 363.4,71.89 363.74,71.32 364.07,70.84 364.4,70.46 364.74,70.17 365.07,69.99 365.4,69.9 365.74,69.93 366.07,70.05 366.41,70.28 366.74,70.61 367.07,71.04 367.41,71.56 367.74,72.16 368.07,72.85 368.41,73.61 368.74,74.43 369.08,75.31 369.41,76.24 369.74,77.2 370.08,78.19 370.41,79.2 370.74,80.21 371.08,81.22 371.41,82.21 371.74,83.17 372.08,84.1 372.41,84.98 372.75,85.8 373.08,86.56 373.41,87.24 373.75,87.85 374.08,88.37 374.41,88.79 374.75,89.12 375.08,89.35 375.41,89.47 375.75,89.5 376.08,89.41 376.42,89.23 376.75,88.94 377.08,88.55 377.42,88.07 377.75,87.5 378.08,86.85 378.42,86.12 378.75,85.32 379.08,84.46 379.42,83.56 379.75,82.61 380.09,81.63 380.42,80.62 380.75,79.61 381.09,78.6 381.42,77.61 381.75,76.63 382.09,75.69 382.42,74.79 382.76,73.94 383.09,73.15 383.42,72.44 383.76,71.8 384.09,71.24 384.42,70.78 384.76,70.41 385.09,70.14 385.42,69.97 385.76,69.9 386.09,69.94 386.43,70.08 386.76,70.33 387.09,70.67 387.43,71.12 387.76,71.65 388.09,72.27 388.43,72.97 388.76,73.74 389.09,74.57 389.43,75.46 389.76,76.39 390.1,77.36 390.43,78.35 390.76,79.36 391.1,80.37 391.43,81.38 391.76,82.36 392.1,83.32 392.43,84.24 392.77,85.11 393.1,85.92 393.43,86.67 393.77,87.34 394.1,87.94 394.43,88.44 394.77,88.85 395.1,89.16 395.43,89.38 395.77,89.48 396.1,89.49 396.44,89.39 396.77,89.19 397.1,88.88 397.44,88.48 397.77,87.99 398.1,87.4 398.44,86.74 398.77,86 399.1,85.19 399.44,84.32 399.77,83.41 400.11,82.45 400.44,81.47 400.77,80.46 401.11,79.45 401.44,78.44 401.77,77.45 402.11,76.48 402.44,75.54 402.77,74.65 403.11,73.81 403.44,73.03 403.78,72.33 404.11,71.7 404.44,71.16 404.78,70.71 405.11,70.36 405.44,70.1 405.78,69.95 406.11,69.9 406.45,69.96 406.78,70.12 407.11,70.38 407.45,70.74 407.78,71.19 408.11,71.74 408.45,72.37 408.78,73.08 409.11,73.86 409.45,74.71 409.78,75.6 410.12,76.54 410.45,77.52 410.78,78.51 411.12,79.52 411.45,80.53 411.78,81.54 412.12,82.52 412.45,83.47 412.78,84.38 413.12,85.25 413.45,86.05 413.79,86.78 414.12,87.44 414.45,88.02 414.79,88.51 415.12,88.91 415.45,89.2 415.79,89.4 416.12,89.49 416.45,89.48 416.79,89.36 417.12,89.15 417.46,88.83 417.79,88.41 418.12,87.9 418.46,87.3 418.79,86.62 419.12,85.87 419.46,85.05 419.79,84.18 420.13,83.26 420.46,82.3 420.79,81.31 421.13,80.3 421.46,79.29 421.79,78.28 422.13,77.29 422.46,76.33 422.79,75.39 423.13,74.51 423.46,73.68 423.8,72.92 424.13,72.22 424.46,71.61 424.8,71.08 425.13,70.65 425.46,70.31 425.8,70.07 426.13,69.93 426.46,69.9 426.8,69.97 427.13,70.15 427.47,70.43 427.8,70.8 428.13,71.28 428.47,71.84 428.8,72.48 429.13,73.2 429.47,74 429.8,74.85 430.13,75.75 430.47,76.7 430.8,77.67 431.14,78.67 431.47,79.68 431.8,80.69 432.14,81.69 432.47,82.67 432.8,83.62 433.14,84.52 433.47,85.38 433.81,86.17 434.14,86.9 434.47,87.54 434.81,88.11 435.14,88.58 435.47,88.96 435.81,89.24 436.14,89.42 436.47,89.5 436.81,89.47 437.14,89.34 437.48,89.1 437.81,88.77 438.14,88.33 438.48,87.81 438.81,87.2 439.14,86.51 439.48,85.74 439.81,84.92 440.14,84.03 440.48,83.11 440.81,82.14 441.15,81.15 441.48,80.14 441.81,79.13 442.15,78.12 442.48,77.14 442.81,76.17 443.15,75.25 443.48,74.37 443.82,73.55 444.15,72.8 444.48,72.12 444.82,71.52 445.15,71.01 445.48,70.59 445.82,70.26 446.15,70.04 446.48,69.92 446.82,69.91 447.15,70 447.49,70.19 447.82,70.48 448.15,70.87 448.49,71.36 448.82,71.94 449.15,72.59 449.49,73.33 449.82,74.13 450.15,74.99 450.49,75.9 450.82,76.85 451.16,77.83 451.49,78.83 451.82,79.85 452.16,80.85 452.49,81.85 452.82,82.83 453.16,83.77 453.49,84.66 453.82,85.51 454.16,86.29 454.49,87 454.83,87.64 455.16,88.19 455.49,88.65 455.83,89.01 456.16,89.28 456.49,89.44 456.83,89.5 457.16,89.45 457.5,89.31 457.83,89.05 458.16,88.7 458.5,88.26 458.83,87.72 459.16,87.09 459.5,86.39 459.83,85.62 460.16,84.78 460.5,83.89 460.83,82.95 461.17,81.98 461.5,80.99 461.83,79.98 462.17,78.97 462.5,77.97 462.83,76.98 463.17,76.02 463.5,75.11 463.83,74.24 464.17,73.43 464.5,72.69 464.84,72.02 465.17,71.43 465.5,70.93 465.84,70.53 466.17,70.22 466.5,70.02 466.84,69.91 467.17,69.91 467.5,70.02 467.84,70.23 468.17,70.54 468.51,70.95 468.84,71.45 469.17,72.03 469.51,72.7 469.84,73.45 470.17,74.26 470.51,75.13 470.84,76.05 471.18,77.01 471.51,77.99 471.84,79 472.18,80.01 472.51,81.01 472.84,82.01 473.18,82.98 473.51,83.91 473.84,84.8 474.18,85.64 474.51,86.41 474.85,87.11 475.18,87.73 475.51,88.27 475.85,88.71 476.18,89.06 476.51,89.31 476.85,89.46 477.18,89.5 477.51,89.44 477.85,89.27 478.18,89 478.52,88.64 478.85,88.18 479.18,87.62 479.52,86.99 479.85,86.27 480.18,85.49 480.52,84.64 480.85,83.74 481.18,82.8 481.52,81.83 481.85,80.83 482.19,79.82 482.52,78.81 482.85,77.81 483.19,76.83 483.52,75.87 483.85,74.96 484.19,74.11 484.52,73.31 484.86,72.57 485.19,71.92 485.52,71.35 485.86,70.86 486.19,70.47 486.52,70.18 486.86,69.99 487.19,69.91 487.52,69.92 487.86,70.05 488.19,70.27 488.53,70.6 488.86,71.02 489.19,71.53 489.53,72.14 489.86,72.82 490.19,73.58 490.53,74.4 490.86,75.27 491.19,76.2 491.53,77.16 491.86,78.15 492.2,79.16 492.53,80.17 492.86,81.17 493.2,82.17 493.53,83.13 493.86,84.06 494.2,84.94 494.53,85.77 494.87,86.53 495.2,87.22 495.53,87.82 495.87,88.35 496.2,88.78 496.53,89.11 496.87,89.34 497.2,89.47 497.53,89.5 497.87,89.42 498.2,89.24 498.54,88.95 498.87,88.57 499.2,88.09 499.54,87.53 499.87,86.88 500.2,86.15 500.54,85.36 500.87,84.5 501.2,83.59 501.54,82.65 501.87,81.67 502.21,80.67 502.54,79.66 502.87,78.65 503.21,77.65 503.54,76.67 503.87,75.73 504.21,74.82 504.54,73.97 504.87,73.18 505.21,72.46 505.54,71.82 505.88,71.26 506.21,70.79 506.54,70.42 506.88,70.14 507.21,69.97 507.54,69.9 507.88,69.94 508.21,70.07 508.55,70.32 508.88,70.66 509.21,71.1 509.55,71.62 509.88,72.24 510.21,72.94 510.55,73.7 510.88,74.53 511.21,75.42 511.55,76.35 511.88,77.32 512.22,78.31 512.55,79.32 512.88,80.33 513.22,81.33 513.55,82.32 513.88,83.28 514.22,84.2 514.55,85.08 514.88,85.89 515.22,86.64 515.55,87.32 515.89,87.91 516.22,88.42 516.55,88.84 516.89,89.15 517.22,89.37 517.55,89.48 517.89,89.49 518.22,89.4 518.55,89.2 518.89,88.9 519.22,88.5 519.56,88.01 519.89,87.43 520.22,86.77 520.56,86.03 520.89,85.22 521.22,84.36 521.56,83.45 521.89,82.49 522.23,81.51 522.56,80.51 522.89,79.5 523.23,78.49 523.56,77.49 523.89,76.52 524.23,75.58 524.56,74.68 524.89,73.84 525.23,73.06 525.56,72.36 525.9,71.73 526.23,71.18 526.56,70.73 526.9,70.37 527.23,70.11 527.56,69.95 527.9,69.9 528.23,69.95 528.56,70.11 528.9,70.36 529.23,70.72 529.57,71.17 529.9,71.72 530.23,72.35 530.57,73.05 530.9,73.83 531.23,74.67 531.57,75.56 531.9,76.5 532.23,77.47 532.57,78.47 532.9,79.48 533.24,80.49 533.57,81.49 533.9,82.48 534.24,83.43 534.57,84.35 534.9,85.21 535.24,86.02 535.57,86.76 535.91,87.42 536.24,88 536.57,88.49 536.91,88.89 537.24,89.19 537.57,89.39 537.91,89.49 538.24,89.48 538.57,89.37 538.91,89.16 539.24,88.84 539.58,88.43 539.91,87.92 540.24,87.33 540.58,86.65 540.91,85.9 541.24,85.09 541.58,84.22 541.91,83.3 542.24,82.34 542.58,81.35 542.91,80.35 543.25,79.33 543.58,78.33 543.91,77.33 544.25,76.37 544.58,75.43 544.91,74.55 545.25,73.71 545.58,72.95 545.92,72.25 546.25,71.63 546.58,71.1 546.92,70.66 547.25,70.32 547.58,70.08 547.92,69.94 548.25,69.9 548.58,69.97 548.92,70.14 549.25,70.41 549.59,70.79 549.92,71.25 550.25,71.81 550.59,72.45 550.92,73.17 551.25,73.96 551.59,74.81 551.92,75.71 552.25,76.66 552.59,77.63 552.92,78.63 553.26,79.64 553.59,80.65 553.92,81.65 554.26,82.63 554.59,83.58 554.92,84.49 555.26,85.34 555.59,86.14 555.92,86.87 556.26,87.52 556.59,88.08 556.93,88.56 557.26,88.95 557.59,89.23 557.93,89.42 558.26,89.5 558.59,89.47 558.93,89.34 559.26,89.11 559.6,88.78 559.93,88.35 560.26,87.83 560.6,87.23 560.93,86.54 561.26,85.78 561.6,84.95 561.93,84.07 562.26,83.15 562.6,82.18 562.93,81.19 563.27,80.18 563.6,79.17 563.93,78.17 564.27,77.18 564.6,76.21" fill="none" stroke="#111" stroke-width="1.8" stroke-linejoin="round" />
<polyline points="360.2,79.6 360.53,79.34 360.87,78.92 361.2,78.39 361.54,77.81 361.87,77.22 362.2,76.63 362.54,76.07 362.87,75.56 363.21,75.11 363.54,74.71 363.87,74.39 364.21,74.14 364.54,73.97 364.88,73.87 365.21,73.84 365.54,73.89 365.88,74 366.21,74.19 366.55,74.44 366.88,74.75 367.21,75.12 367.55,75.54 367.88,76 368.22,76.51 368.55,77.05 368.88,77.62 369.22,78.21 369.55,78.82 369.89,79.43 370.22,80.05 370.55,80.67 370.89,81.27 371.22,81.86 371.56,82.42 371.89,82.95 372.22,83.45 372.56,83.9 372.89,84.31 373.23,84.67 373.56,84.97 373.89,85.22 374.23,85.41 374.56,85.53 374.9,85.59 375.23,85.59 375.56,85.52 375.9,85.39 376.23,85.2 376.57,84.95 376.9,84.64 377.23,84.28 377.57,83.87 377.9,83.41 378.24,82.91 378.57,82.38 378.9,81.82 379.24,81.23 379.57,80.62 379.91,80.01 380.24,79.39 380.57,78.77 380.91,78.16 381.24,77.57 381.58,77 381.91,76.45 382.24,75.94 382.58,75.47 382.91,75.04 383.25,74.67 383.58,74.34 383.91,74.07 384.25,73.86 384.58,73.71 384.92,73.62 385.25,73.6 385.58,73.64 385.92,73.75 386.25,73.91 386.58,74.14 386.92,74.43 387.25,74.77 387.59,75.16 387.92,75.6 388.25,76.09 388.59,76.61 388.92,77.16 389.26,77.74 389.59,78.34 389.92,78.95 390.26,79.57 390.59,80.19 390.93,80.8 391.26,81.4 391.59,81.98 391.93,82.54 392.26,83.06 392.6,83.55 392.93,84 393.26,84.39 393.6,84.74 393.93,85.03 394.27,85.27 394.6,85.44 394.93,85.55 395.27,85.6 395.6,85.58 395.94,85.5 396.27,85.36 396.6,85.15 396.94,84.89 397.27,84.57 397.61,84.2 397.94,83.77 398.27,83.31 398.61,82.8 398.94,82.26 399.28,81.69 399.61,81.1 399.94,80.49 400.28,79.87 400.61,79.25 400.95,78.64 401.28,78.03 401.61,77.44 401.95,76.87 402.28,76.34 402.62,75.84 402.95,75.37 403.28,74.96 403.62,74.59 403.95,74.28 404.29,74.02 404.62,73.82 404.95,73.69 405.29,73.61 405.62,73.6 405.96,73.66 406.29,73.78 406.62,73.96 406.96,74.2 407.29,74.5 407.63,74.85 407.96,75.26 408.29,75.71 408.63,76.2 408.96,76.73 409.3,77.29 409.63,77.87 409.96,78.47 410.3,79.09 410.63,79.71 410.97,80.32 411.3,80.94 411.63,81.53 411.97,82.11 412.3,82.66 412.64,83.17 412.97,83.65 413.3,84.09 413.64,84.47 413.97,84.81 414.31,85.09 414.64,85.31 414.97,85.47 415.31,85.57 415.64,85.6 415.98,85.57 416.31,85.48 416.64,85.32 416.98,85.1 417.31,84.82 417.65,84.49 417.98,84.11 418.31,83.67 418.65,83.2 418.98,82.68 419.32,82.14 419.65,81.56 419.98,80.96 420.32,80.35 420.65,79.74 420.99,79.12 421.32,78.5 421.65,77.9 421.99,77.31 422.32,76.75 422.66,76.22 422.99,75.73 423.32,75.28 423.66,74.87 423.99,74.52 424.33,74.21 424.66,73.97 424.99,73.79 425.33,73.66 425.66,73.61 426,73.61 426.33,73.68 426.66,73.81 427,74.01 427.33,74.26 427.67,74.57 428,74.94 428.33,75.35 428.67,75.81 429,76.31 429.34,76.85 429.67,77.41 430,78 430.34,78.61 430.67,79.22 431.01,79.84 431.34,80.46 431.67,81.07 432.01,81.66 432.34,82.23 432.68,82.77 433.01,83.28 433.34,83.75 433.68,84.18 434.01,84.55 434.35,84.87 434.68,85.14 435.01,85.35 435.35,85.5 435.68,85.58 436.02,85.6 436.35,85.55 436.68,85.45 437.02,85.28 437.35,85.04 437.68,84.76 438.02,84.41 438.35,84.02 438.69,83.57 439.02,83.09 439.35,82.57 439.69,82.01 440.02,81.43 440.36,80.83 440.69,80.22 441.02,79.6 441.36,78.98 441.69,78.37 442.03,77.77 442.36,77.19 442.69,76.64 443.03,76.11 443.36,75.63 443.7,75.18 444.03,74.79 444.36,74.44 444.7,74.16 445.03,73.92 445.37,73.75 445.7,73.65 446.03,73.6 446.37,73.62 446.7,73.7 447.04,73.85 447.37,74.06 447.7,74.32 448.04,74.65 448.37,75.02 448.71,75.45 449.04,75.92 449.37,76.43 449.71,76.97 450.04,77.54 450.38,78.13 450.71,78.74 451.04,79.36 451.38,79.98 451.71,80.59 452.05,81.2 452.38,81.79 452.71,82.35 453.05,82.89 453.38,83.39 453.72,83.85 454.05,84.26 454.38,84.63 454.72,84.94 455.05,85.19 455.39,85.39 455.72,85.52 456.05,85.59 456.39,85.59 456.72,85.54 457.06,85.41 457.39,85.23 457.72,84.99 458.06,84.68 458.39,84.33 458.73,83.92 459.06,83.47 459.39,82.98 459.73,82.45 460.06,81.89 460.4,81.3 460.73,80.7 461.06,80.08 461.4,79.46 461.73,78.85 462.07,78.24 462.4,77.64 462.73,77.07 463.07,76.52 463.4,76 463.74,75.53 464.07,75.09 464.4,74.71 464.74,74.38 465.07,74.1 465.41,73.88 465.74,73.72 466.07,73.63 466.41,73.6 466.74,73.63 467.08,73.73 467.41,73.89 467.74,74.11 468.08,74.39 468.41,74.73 468.75,75.11 469.08,75.55 469.41,76.03 469.75,76.54 470.08,77.09 470.42,77.67 470.75,78.26 471.08,78.88 471.42,79.49 471.75,80.11 472.09,80.73 472.42,81.33 472.75,81.91 473.09,82.47 473.42,83 473.76,83.49 474.09,83.94 474.42,84.35 474.76,84.7 475.09,85 475.43,85.24 475.76,85.42 476.09,85.54 476.43,85.6 476.76,85.59 477.1,85.51 477.43,85.38 477.76,85.18 478.1,84.92 478.43,84.61 478.77,84.24 479.1,83.83 479.43,83.37 479.77,82.86 480.1,82.33 480.44,81.76 480.77,81.17 481.1,80.56 481.44,79.95 481.77,79.33 482.11,78.71 482.44,78.1 482.77,77.51 483.11,76.94 483.44,76.4 483.78,75.9 484.11,75.43 484.44,75.01 484.78,74.63 485.11,74.31 485.45,74.05 485.78,73.84 486.11,73.7 486.45,73.62 486.78,73.6 487.12,73.65 487.45,73.76 487.78,73.93 488.12,74.17 488.45,74.46 488.78,74.81 489.12,75.2 489.45,75.65 489.79,76.14 490.12,76.66 490.45,77.22 490.79,77.8 491.12,78.4 491.46,79.01 491.79,79.63 492.12,80.25 492.46,80.86 492.79,81.46 493.13,82.04 493.46,82.59 493.79,83.11 494.13,83.59 494.46,84.04 494.8,84.43 495.13,84.77 495.46,85.06 495.8,85.29 496.13,85.45 496.47,85.56 496.8,85.6 497.13,85.58 497.47,85.49 497.8,85.34 498.14,85.13 498.47,84.86 498.8,84.54 499.14,84.16 499.47,83.73 499.81,83.26 500.14,82.75 500.47,82.2 500.81,81.63 501.14,81.04 501.48,80.43 501.81,79.81 502.14,79.19 502.48,78.58 502.81,77.97 503.15,77.39 503.48,76.82 503.81,76.29 504.15,75.79 504.48,75.33 504.82,74.92 505.15,74.56 505.48,74.25 505.82,74 506.15,73.81 506.49,73.68 506.82,73.61 507.15,73.61 507.49,73.67 507.82,73.79 508.16,73.98 508.49,74.23 508.82,74.53 509.16,74.89 509.49,75.3 509.83,75.75 510.16,76.25 510.49,76.78 510.83,77.34 511.16,77.93 511.5,78.53 511.83,79.15 512.16,79.77 512.5,80.38 512.83,80.99 513.17,81.59 513.5,82.16" fill="none" stroke="#EE3B3B" stroke-width="1.5" stroke-linejoin="round" />
<polyline points="360.2,79.6 360.53,79.86 360.87,79.96 361.2,79.92 361.54,79.78 361.87,79.57 362.2,79.31 362.54,79.01 362.87,78.7 363.21,78.38 363.54,78.06 363.87,77.76 364.21,77.47 364.54,77.21 364.88,76.97 365.21,76.76 365.54,76.58 365.88,76.44 366.21,76.34 366.55,76.27 366.88,76.24 367.21,76.25 367.55,76.29 367.88,76.38 368.22,76.49 368.55,76.65 368.88,76.83 369.22,77.04 369.55,77.29 369.89,77.55 370.22,77.84 370.55,78.15 370.89,78.48 371.22,78.81 371.56,79.16 371.89,79.51 372.22,79.86 372.56,80.21 372.89,80.55 373.23,80.88 373.56,81.2 373.89,81.5 374.23,81.78 374.56,82.04 374.9,82.27 375.23,82.47 375.56,82.65 375.9,82.79 376.23,82.89 376.57,82.96 376.9,83 377.23,82.99 377.57,82.96 377.9,82.88 378.24,82.77 378.57,82.63 378.9,82.46 379.24,82.25 379.57,82.02 379.91,81.76 380.24,81.47 380.57,81.17 380.91,80.85 381.24,80.52 381.58,80.18 381.91,79.83 382.24,79.48 382.58,79.13 382.91,78.78 383.25,78.44 383.58,78.12 383.91,77.81 384.25,77.52 384.58,77.26 384.92,77.02 385.25,76.8 385.58,76.62 385.92,76.46 386.25,76.35 386.58,76.26 386.92,76.21 387.25,76.2 387.59,76.22 387.92,76.28 388.25,76.38 388.59,76.51 388.92,76.67 389.26,76.87 389.59,77.09 389.92,77.34 390.26,77.61 390.59,77.91 390.93,78.22 391.26,78.55 391.59,78.89 391.93,79.24 392.26,79.59 392.6,79.94 392.93,80.29 393.26,80.63 393.6,80.95 393.93,81.27 394.27,81.57 394.6,81.84 394.93,82.09 395.27,82.32 395.6,82.51 395.94,82.68 396.27,82.81 396.6,82.91 396.94,82.97 397.27,83 397.61,82.99 397.94,82.94 398.27,82.86 398.61,82.75 398.94,82.6 399.28,82.41 399.61,82.2 399.94,81.96 400.28,81.7 400.61,81.41 400.95,81.1 401.28,80.78 401.61,80.44 401.95,80.1 402.28,79.75 402.62,79.4 402.95,79.05 403.28,78.71 403.62,78.37 403.95,78.05 404.29,77.75 404.62,77.46 404.95,77.2 405.29,76.97 405.62,76.76 405.96,76.58 406.29,76.44 406.62,76.32 406.96,76.25 407.29,76.21 407.63,76.2 407.96,76.23 408.29,76.3 408.63,76.41 408.96,76.54 409.3,76.71 409.63,76.91 409.96,77.14 410.3,77.4 410.63,77.68 410.97,77.98 411.3,78.29 411.63,78.62 411.97,78.96 412.3,79.31 412.64,79.66 412.97,80.01 413.3,80.36 413.64,80.7 413.97,81.02 414.31,81.34 414.64,81.63 414.97,81.9 415.31,82.15 415.64,82.36 415.98,82.55 416.31,82.71 416.64,82.84 416.98,82.93 417.31,82.98 417.65,83 417.98,82.98 418.31,82.93 418.65,82.84 418.98,82.72 419.32,82.56 419.65,82.37 419.98,82.15 420.32,81.91 420.65,81.64 420.99,81.34 421.32,81.03 421.65,80.71 421.99,80.37 422.32,80.02 422.66,79.67 422.99,79.32 423.32,78.97 423.66,78.63 423.99,78.3 424.33,77.98 424.66,77.68 424.99,77.4 425.33,77.15 425.66,76.92 426,76.72 426.33,76.55 426.66,76.41 427,76.3 427.33,76.24 427.67,76.2 428,76.21 428.33,76.25 428.67,76.32 429,76.43 429.34,76.58 429.67,76.75 430,76.96 430.34,77.2 430.67,77.46 431.01,77.74 431.34,78.04 431.67,78.36 432.01,78.7 432.34,79.04 432.68,79.39 433.01,79.74 433.34,80.09 433.68,80.44 434.01,80.77 434.35,81.09 434.68,81.4 435.01,81.69 435.35,81.95 435.68,82.2 436.02,82.41 436.35,82.59 436.68,82.74 437.02,82.86 437.35,82.94 437.68,82.99 438.02,83 438.35,82.97 438.69,82.91 439.02,82.81 439.35,82.68 439.69,82.52 440.02,82.32 440.36,82.1 440.69,81.85 441.02,81.57 441.36,81.28 441.69,80.96 442.03,80.63 442.36,80.29 442.69,79.95 443.03,79.6 443.36,79.25 443.7,78.9 444.03,78.56 444.36,78.23 444.7,77.92 445.03,77.62 445.37,77.35 445.7,77.1 446.03,76.87 446.37,76.68 446.7,76.51 447.04,76.38 447.37,76.29 447.7,76.23 448.04,76.2 448.37,76.21 448.71,76.26 449.04,76.34 449.37,76.46 449.71,76.61 450.04,76.8 450.38,77.01 450.71,77.25 451.04,77.52 451.38,77.81 451.71,78.11 452.05,78.44 452.38,78.77 452.71,79.12 453.05,79.47 453.38,79.82 453.72,80.17 454.05,80.51 454.38,80.84 454.72,81.16 455.05,81.47 455.39,81.75 455.72,82.01 456.05,82.24 456.39,82.45 456.72,82.63 457.06,82.77 457.39,82.88 457.72,82.96 458.06,82.99 458.39,83 458.73,82.96 459.06,82.89 459.39,82.79 459.73,82.65 460.06,82.48 460.4,82.28 460.73,82.05 461.06,81.79 461.4,81.51 461.73,81.21 462.07,80.89 462.4,80.56 462.73,80.22 463.07,79.87 463.4,79.52 463.74,79.17 464.07,78.82 464.4,78.49 464.74,78.16 465.07,77.85 465.41,77.56 465.74,77.29 466.07,77.04 466.41,76.83 466.74,76.64 467.08,76.48 467.41,76.36 467.74,76.27 468.08,76.22 468.41,76.2 468.75,76.22 469.08,76.27 469.41,76.37 469.75,76.49 470.08,76.65 470.42,76.84 470.75,77.06 471.08,77.31 471.42,77.58 471.75,77.87 472.09,78.18 472.42,78.51 472.75,78.85 473.09,79.19 473.42,79.54 473.76,79.89 474.09,80.24 474.42,80.58 474.76,80.91 475.09,81.23 475.43,81.53 475.76,81.81 476.09,82.06 476.43,82.29 476.76,82.49 477.1,82.66 477.43,82.8 477.76,82.9 478.1,82.97 478.43,83 478.77,82.99 479.1,82.95 479.43,82.87 479.77,82.76 480.1,82.62 480.44,82.44 480.77,82.23 481.1,81.99 481.44,81.73 481.77,81.45 482.11,81.14 482.44,80.82 482.77,80.49 483.11,80.14 483.44,79.79 483.78,79.44 484.11,79.09 484.44,78.75 484.78,78.41 485.11,78.09 485.45,77.78 485.78,77.5 486.11,77.23 486.45,76.99 486.78,76.78 487.12,76.6 487.45,76.45 487.78,76.34 488.12,76.26 488.45,76.21 488.78,76.2 489.12,76.23 489.45,76.29 489.79,76.39 490.12,76.52 490.45,76.69 490.79,76.89 491.12,77.11 491.46,77.36 491.79,77.64 492.12,77.94 492.46,78.25 492.79,78.58 493.13,78.92 493.46,79.27 493.79,79.62 494.13,79.97 494.46,80.32 494.8,80.66 495.13,80.99 495.46,81.3 495.8,81.59 496.13,81.87 496.47,82.12 496.8,82.34 497.13,82.53 497.47,82.69 497.8,82.82 498.14,82.92 498.47,82.98 498.8,83 499.14,82.99 499.47,82.94 499.81,82.85 500.14,82.73 500.47,82.58 500.81,82.39 501.14,82.18 501.48,81.94 501.81,81.67 502.14,81.38 502.48,81.07 502.81,80.75 503.15,80.41 503.48,80.07 503.81,79.72 504.15,79.37 504.48,79.02 504.82,78.67 505.15,78.34 505.48,78.02 505.82,77.72 506.15,77.44 506.49,77.18 506.82,76.94 507.15,76.74 507.49,76.57 507.82,76.42 508.16,76.32 508.49,76.24 508.82,76.21 509.16,76.2 509.49,76.24 509.83,76.31 510.16,76.42 510.49,76.56 510.83,76.73 511.16,76.93 511.5,77.17 511.83,77.42 512.16,77.7 512.5,78.01 512.83,78.32 513.17,78.66 513.5,79" fill="none" stroke="#2C8FE0" stroke-width="1.5" stroke-linejoin="round" />
<rect x="467.75" y="69.15" width="2.9" height="2.9" fill="#E00000"/>
<rect x="528.35" y="68.75" width="2.9" height="2.9" fill="#1F3C9C"/>
</g>
<rect x="350.5" y="12.5" width="224" height="114" fill="none" stroke="#444" stroke-width="1"/>
<text stroke="#111" stroke-width="0.07" x="349.2" y="141.7" font-size="8" font-family="Liberation Sans, sans-serif" fill="#111" textLength="19.8" lengthAdjust="spacingAndGlyphs">SF-AR</text>
<text stroke="#111" stroke-width="0.07" x="0" y="0" font-size="7" font-family="Liberation Sans, sans-serif" fill="#111" text-anchor="middle" transform="translate(340.2 193.4) rotate(-90)">Amplitude</text>
<text x="347.1" y="151.5" font-size="5.2" font-family="Liberation Sans, sans-serif" fill="#111" text-anchor="end" dominant-baseline="central">3</text>
<line x1="347.7" x2="349.5" y1="151.5" y2="151.5" stroke="#333" stroke-width="0.5"/>
<text x="347.1" y="171.5" font-size="5.2" font-family="Liberation Sans, sans-serif" fill="#111" text-anchor="end" dominant-baseline="central">2</text>
<line x1="347.7" x2="349.5" y1="171.5" y2="171.5" stroke="#333" stroke-width="0.5"/>
<text x="347.1" y="191.5" font-size="5.2" font-family="Liberation Sans, sans-serif" fill="#111" text-anchor="end" dominant-baseline="central">1</text>
<line x1="347.7" x2="349.5" y1="191.5" y2="191.5" stroke="#333" stroke-width="0.5"/>
<text x="347.1" y="211.5" font-size="5.2" font-family="Liberation Sans, sans-serif" fill="#111" text-anchor="end" dominant-baseline="central">0</text>
<line x1="347.7" x2="349.5" y1="211.5" y2="211.5" stroke="#333" stroke-width="0.5"/>
<text x="347.1" y="231.5" font-size="5.2" font-family="Liberation Sans, sans-serif" fill="#111" text-anchor="end" dominant-baseline="central">-1</text>
<line x1="347.7" x2="349.5" y1="231.5" y2="231.5" stroke="#333" stroke-width="0.5"/>
<text x="347.1" y="251.5" font-size="5.2" font-family="Liberation Sans, sans-serif" fill="#111" text-anchor="end" dominant-baseline="central">-2</text>
<line x1="347.7" x2="349.5" y1="251.5" y2="251.5" stroke="#333" stroke-width="0.5"/>
<text x="360.2" y="264.1" font-size="5.4" font-family="Liberation Sans, sans-serif" fill="#111" text-anchor="middle">0.0</text>
<line x1="360.2" x2="360.2" y1="258.5" y2="260.3" stroke="#333" stroke-width="0.5"/>
<text x="399.2" y="264.1" font-size="5.4" font-family="Liberation Sans, sans-serif" fill="#111" text-anchor="middle">0.2</text>
<line x1="399.2" x2="399.2" y1="258.5" y2="260.3" stroke="#333" stroke-width="0.5"/>
<text x="438.2" y="264.1" font-size="5.4" font-family="Liberation Sans, sans-serif" fill="#111" text-anchor="middle">0.4</text>
<line x1="438.2" x2="438.2" y1="258.5" y2="260.3" stroke="#333" stroke-width="0.5"/>
<text x="477.2" y="264.1" font-size="5.4" font-family="Liberation Sans, sans-serif" fill="#111" text-anchor="middle">0.6</text>
<line x1="477.2" x2="477.2" y1="258.5" y2="260.3" stroke="#333" stroke-width="0.5"/>
<text x="516.2" y="264.1" font-size="5.4" font-family="Liberation Sans, sans-serif" fill="#111" text-anchor="middle">0.8</text>
<line x1="516.2" x2="516.2" y1="258.5" y2="260.3" stroke="#333" stroke-width="0.5"/>
<text x="555.2" y="264.1" font-size="5.4" font-family="Liberation Sans, sans-serif" fill="#111" text-anchor="middle">1.0</text>
<line x1="555.2" x2="555.2" y1="258.5" y2="260.3" stroke="#333" stroke-width="0.5"/>
<clipPath id="cp1"><rect x="349.5" y="144.5" width="225" height="114"/></clipPath>
<g clip-path="url(#cp1)">
<polyline points="359.2,211.5 359.45,216.98 359.7,196.79 359.95,203.19 360.2,231.72 360.45,196.82 360.7,232.78 360.95,204.22 361.21,196.91 361.46,180.91 361.71,213.9 361.96,165.5 362.21,200.04 362.46,172.4 362.71,213.7 362.96,206.6 363.21,184.21 363.46,211.15 363.71,189.9 363.96,170.73 364.21,203.72 364.46,210.05 364.71,187.83 364.97,199.02 365.22,177.6 365.47,216.61 365.72,176.53 365.97,159.5 366.22,226.69 366.47,167.3 366.72,221.13 366.97,227.65 367.22,188.15 367.47,216.81 367.72,165.5 367.97,165.5 368.22,216.91 368.47,172.4 368.72,191.66 368.98,206.4 369.23,219.47 369.48,230.37 369.73,200.78 369.98,218.25 370.23,181.26 370.48,186.15 370.73,202.74 370.98,211.16 371.23,180.28 371.48,190.43 371.73,193.33 371.98,218.66 372.23,192.71 372.48,202.53 372.74,217.3 372.99,212.22 373.24,201.06 373.49,194.37 373.74,214.83 373.99,185.57 374.24,194.96 374.49,211.16 374.74,196.53 374.99,229.05 375.24,205.79 375.49,206.81 375.74,185.07 375.99,183.34 376.24,192.95 376.5,243.57 376.75,225.68 377,206.05 377.25,194.72 377.5,236.82 377.75,198.53 378,201.8 378.25,189.48 378.5,216.91 378.75,215.54 379,189.49 379.25,221.75 379.5,218.52 379.75,210.05 380,217.03 380.25,231.84 380.51,222.55 380.76,198.48 381.01,233.84 381.26,225.25 381.51,220.39 381.76,210.96 382.01,173.63 382.26,220.13 382.51,185.14 382.76,232.79 383.01,172.23 383.26,186.12 383.51,219.93 383.76,201.79 384.01,203.01 384.27,244.41 384.52,180.94 384.77,221 385.02,194.32 385.27,227.92 385.52,210.1 385.77,218.2 386.02,196.43 386.27,220.77 386.52,224.26 386.77,211.33 387.02,231.66 387.27,194.58 387.52,210.56 387.77,182.91 388.03,211.1 388.28,186.17 388.53,195.13 388.78,228.03 389.03,223.01 389.28,209.66 389.53,243.24 389.78,200.5 390.03,221.12 390.28,203.88 390.53,201.1 390.78,182.57 391.03,210.81 391.28,168.37 391.53,204.34 391.78,191.58 392.04,196.33 392.29,202.39 392.54,182.83 392.79,187.99 393.04,224.28 393.29,195.2 393.54,214.57 393.79,215.92 394.04,189.48 394.29,212.67 394.54,192.7 394.79,221.38 395.04,204.84 395.29,228.26 395.54,199.03 395.8,205.43 396.05,218.29 396.3,211.28 396.55,180.15 396.8,194.39 397.05,195.07 397.3,199.72 397.55,225.84 397.8,243.68 398.05,191 398.3,216.46 398.55,192.8 398.8,185.26 399.05,176.75 399.3,181.77 399.56,179.22 399.81,218.95 400.06,185.26 400.31,193.47 400.56,205.62 400.81,184.83 401.06,213.33 401.31,226.68 401.56,207.59 401.81,228.77 402.06,176.65 402.31,233.31 402.56,220.81 402.81,207.56 403.06,223.15 403.32,203.22 403.57,212.21 403.82,239.76 404.07,226.24 404.32,200.5 404.57,228.23 404.82,175.21 405.07,222.76 405.32,191.58 405.57,218.94 405.82,233.34 406.07,205.98 406.32,189.54 406.57,204.8 406.82,225.75 407.07,199.81 407.33,211.8 407.58,236.36 407.83,206.65 408.08,188.82 408.33,192.59 408.58,220.49 408.83,210.03 409.08,221.44 409.33,210.02 409.58,237.57 409.83,232.57 410.08,239.19 410.33,192.47 410.58,204.72 410.83,177.73 411.09,216.59 411.34,212.24 411.59,172.06 411.84,217.5 412.09,196.46 412.34,220.31 412.59,195.92 412.84,217.52 413.09,184.25 413.34,203.05 413.59,191.12 413.84,186.9 414.09,238.18 414.34,219.88 414.59,215.19 414.85,206.98 415.1,251.5 415.35,198.25 415.6,245.5 415.85,215.97 416.1,219.63 416.35,193.48 416.6,208.08 416.85,189.39 417.1,201.93 417.35,194.16 417.6,186.24 417.85,227.54 418.1,249.5 418.35,215.61 418.6,243.8 418.86,200.36 419.11,176.13 419.36,204.17 419.61,240.48 419.86,203.43 420.11,245.64 420.36,188.21 420.61,184.62 420.86,235.55 421.11,192.91 421.36,198.53 421.61,190.8 421.86,197.87 422.11,229.05 422.36,187.14 422.62,235.75 422.87,185.64 423.12,195.35 423.37,176.31 423.62,224.74 423.87,178.13 424.12,228.83 424.37,182.02 424.62,189.73 424.87,175.52 425.12,199.72 425.37,228.51 425.62,228.04 425.87,192.86 426.12,190.58 426.38,185.21 426.63,202.06 426.88,172.72 427.13,217.69 427.38,207.11 427.63,226.63 427.88,175.7 428.13,225.62 428.38,193.16 428.63,203.69 428.88,194.19 429.13,211.64 429.38,236.24 429.63,174.02 429.88,170.78 430.13,238.2 430.39,165.55 430.64,187.17 430.89,177.24 431.14,192.17 431.39,176.06 431.64,211.53 431.89,203.03 432.14,235.81 432.39,207.65 432.64,225.88 432.89,230.78 433.14,183.64 433.39,183.23 433.64,216.98 433.89,223.41 434.15,236.04 434.4,171.19 434.65,232.76 434.9,227.54 435.15,218.3 435.4,186.19 435.65,229.13 435.9,226.9 436.15,211.73 436.4,212.97 436.65,190.73 436.9,215.54 437.15,209.31 437.4,188.33 437.65,204.74 437.91,222.13 438.16,182.06 438.41,196.98 438.66,171.06 438.91,189.5 439.16,201.71 439.41,223.14 439.66,224.04 439.91,221 440.16,192.72 440.41,216.14 440.66,223.25 440.91,180.54 441.16,201.94 441.41,235.81 441.67,180.88 441.92,159.5 442.17,225.16 442.42,167.3 442.67,199.55 442.92,228.02 443.17,205.88 443.42,203.34 443.67,188.34 443.92,214.89 444.17,198.06 444.42,204.71 444.67,150.5 444.92,192.26 445.17,159.65 445.42,214.19 445.68,226.43 445.93,192.6 446.18,210.27 446.43,206.2 446.68,240.57 446.93,155.5 447.18,210.66 447.43,163.9 447.68,220.13 447.93,228.77 448.18,170.25 448.43,190.43 448.68,183.53 448.93,201.14 449.18,233.67 449.44,182.64 449.69,181.63 449.94,163.5 450.19,213.37 450.44,170.7 450.69,197.93 450.94,226.75 451.19,209.2 451.44,211.61 451.69,194.15 451.94,195.81 452.19,204.29 452.44,180.06 452.69,175.71 452.94,212.36 453.2,199.69 453.45,176.59 453.7,238.23 453.95,186.15 454.2,224.34 454.45,223.03 454.7,232.82 454.95,200.93 455.2,200.55 455.45,220.94 455.7,217.29 455.95,235.97 456.2,182.15 456.45,210.48 456.7,242.97 456.95,203.64 457.21,199.57 457.46,217.5 457.71,206.62 457.96,205.91 458.21,201.54 458.46,230.63 458.71,225.08 458.96,207.11 459.21,203 459.46,175.67 459.71,204.47 459.96,206.41 460.21,198.53 460.46,210.6 460.71,190.78 460.97,203.07 461.22,201.59 461.47,181.17 461.72,211.66 461.97,205.34 462.22,209.6 462.47,187.97 462.72,199.36 462.97,230.22 463.22,181.16 463.47,225.77 463.72,214.17 463.97,197.07 464.22,191.33 464.47,189.92 464.73,202.38 464.98,189.78 465.23,216.68 465.48,197.28 465.73,202.87 465.98,199.98 466.23,198.73 466.48,225 466.73,194.84 466.98,201.15 467.23,209.89 467.48,226.67 467.73,218.48 467.98,196.64 468.23,202.63 468.48,202.49 468.74,219.01 468.99,207.01 469.24,186.75 469.49,189.72 469.74,197.52 469.99,203.12 470.24,182.76 470.49,215.21 470.74,187.62 470.99,221.16 471.24,229.65 471.49,224.07 471.74,198.78 471.99,180.58 472.24,215.85 472.5,201.98 472.75,230.38 473,214.6 473.25,183.52 473.5,187.97 473.75,191.29 474,195.35 474.25,234.65 474.5,198.46 474.75,192.5 475,216.61 475.25,178.32 475.5,181.13 475.75,198.04 476,242.4 476.26,230.64 476.51,206.71 476.76,201.96 477.01,200.32 477.26,193.65 477.51,181.81 477.76,188.99 478.01,217.54 478.26,230.92 478.51,214.74 478.76,217.85 479.01,176.27 479.26,239.8 479.51,229.77 479.76,200.29 480.02,234.75 480.27,222.96 480.52,199.03 480.77,187.26 481.02,180.78 481.27,204.35 481.52,174.21 481.77,210.87 482.02,222.69 482.27,201.46 482.52,182.44 482.77,242.8 483.02,200.37 483.27,235.35 483.52,186.67 483.77,165.5 484.03,161.5 484.28,202.67 484.53,169 484.78,182.45 485.03,199.45 485.28,200.08 485.53,207.62 485.78,227.85 486.03,191.85 486.28,237.74 486.53,212.8 486.78,216.5 487.03,165.5 487.28,210.01 487.53,172.4 487.79,216.6 488.04,185.62 488.29,218.16 488.54,206.21 488.79,225.63 489.04,222.13 489.29,205.6 489.54,221.07 489.79,216.42 490.04,174.76 490.29,209.53 490.54,197.07 490.79,202.56 491.04,210.7 491.29,189.79 491.55,241.51 491.8,218 492.05,233.09 492.3,192.26 492.55,193.24 492.8,189.75 493.05,171.09 493.3,165.5 493.55,173.5 493.8,183.33 494.05,176.61 494.3,190.95 494.55,190.9 494.8,209.68 495.05,199.89 495.3,208.45 495.56,196.58 495.81,179.15 496.06,221.37 496.31,200.84 496.56,202.37 496.81,227.25 497.06,253.5 497.31,221.01 497.56,247.2 497.81,204.3 498.06,189.69 498.31,212.37 498.56,202.01 498.81,210.66 499.06,229.93 499.32,207.01 499.57,213.93 499.82,191.68 500.07,225.27 500.32,209.96 500.57,205.83 500.82,216.22 501.07,204.24 501.32,195.84 501.57,206.54 501.82,200.36 502.07,191.49 502.32,194.74 502.57,219.59 502.82,202.32 503.08,187.34 503.33,199.41 503.58,205.11 503.83,189.37 504.08,204.11 504.33,186.61 504.58,183.51 504.83,214.11 505.08,187.36 505.33,234.23 505.58,234.56 505.83,193.34 506.08,232.16 506.33,232.2 506.58,217.1 506.83,169.25 507.09,218.6 507.34,204.67 507.59,169.63 507.84,249.48 508.09,176.77 508.34,216.86 508.59,196.05 508.84,225.71 509.09,237.54 509.34,213.63 509.59,216.51 509.84,200.62 510.09,205.78 510.34,213.09 510.59,202.16 510.85,195.94 511.1,194.24 511.35,189.26 511.6,203.74 511.85,210.26 512.1,213 512.35,188.27 512.6,225.29" fill="none" stroke="#C69E4C" stroke-width="0.8" stroke-linejoin="round" stroke-opacity="0.8"/>
<polyline points="359.1,213.62 359.43,212.63 359.77,211.64 360.1,210.64 360.43,209.65 360.77,208.68 361.1,207.74 361.43,206.84 361.77,206 362.1,205.2 362.43,204.48 362.77,203.83 363.1,203.26 363.43,202.78 363.77,202.39 364.1,202.09 364.43,201.9 364.77,201.81 365.1,201.82 365.43,201.93 365.77,202.15 366.1,202.46 366.43,202.87 366.77,203.37 367.1,203.96 367.43,204.62 367.77,205.36 368.1,206.17 368.43,207.03 368.77,207.93 369.1,208.88 369.44,209.85 369.77,210.84 370.1,211.84 370.44,212.84 370.77,213.82 371.1,214.77 371.44,215.69 371.77,216.57 372.1,217.39 372.44,218.15 372.77,218.84 373.1,219.46 373.44,219.98 373.77,220.42 374.1,220.77 374.44,221.01 374.77,221.16 375.1,221.2 375.44,221.14 375.77,220.98 376.1,220.72 376.44,220.36 376.77,219.9 377.1,219.36 377.44,218.73 377.77,218.03 378.1,217.26 378.44,216.43 378.77,215.54 379.1,214.62 379.44,213.66 379.77,212.67 380.1,211.68 380.44,210.68 380.77,209.69 381.1,208.72 381.44,207.78 381.77,206.88 382.1,206.03 382.44,205.23 382.77,204.51 383.1,203.85 383.44,203.28 383.77,202.79 384.1,202.4 384.44,202.1 384.77,201.91 385.1,201.81 385.44,201.82 385.77,201.93 386.1,202.14 386.44,202.44 386.77,202.85 387.1,203.35 387.44,203.93 387.77,204.59 388.1,205.33 388.44,206.13 388.77,206.99 389.1,207.9 389.44,208.84 389.77,209.81 390.11,210.8 390.44,211.8 390.77,212.8 391.11,213.78 391.44,214.73 391.77,215.66 392.11,216.54 392.44,217.36 392.77,218.12 393.11,218.82 393.44,219.43 393.77,219.96 394.11,220.41 394.44,220.75 394.77,221 395.11,221.15 395.44,221.2 395.77,221.14 396.11,220.99 396.44,220.73 396.77,220.37 397.11,219.92 397.44,219.38 397.77,218.76 398.11,218.06 398.44,217.29 398.77,216.46 399.11,215.58 399.44,214.65 399.77,213.69 400.11,212.71 400.44,211.72 400.77,210.72 401.11,209.73 401.44,208.76 401.77,207.82 402.11,206.92 402.44,206.06 402.77,205.26 403.11,204.53 403.44,203.88 403.77,203.3 404.11,202.81 404.44,202.41 404.77,202.11 405.11,201.91 405.44,201.81 405.77,201.81 406.11,201.92 406.44,202.13 406.77,202.43 407.11,202.83 407.44,203.33 407.77,203.91 408.11,204.57 408.44,205.3 408.77,206.1 409.11,206.96 409.44,207.86 409.77,208.8 410.11,209.77 410.44,210.76 410.78,211.76 411.11,212.76 411.44,213.74 411.78,214.7 412.11,215.62 412.44,216.5 412.78,217.33 413.11,218.09 413.44,218.79 413.78,219.41 414.11,219.94 414.44,220.39 414.78,220.74 415.11,221 415.44,221.15 415.78,221.2 416.11,221.15 416.44,220.99 416.78,220.74 417.11,220.39 417.44,219.94 417.78,219.41 418.11,218.79 418.44,218.09 418.78,217.32 419.11,216.5 419.44,215.62 419.78,214.69 420.11,213.73 420.44,212.75 420.78,211.76 421.11,210.76 421.44,209.77 421.78,208.8 422.11,207.85 422.44,206.95 422.78,206.09 423.11,205.3 423.44,204.56 423.78,203.9 424.11,203.32 424.44,202.83 424.78,202.43 425.11,202.12 425.44,201.92 425.78,201.81 426.11,201.81 426.44,201.91 426.78,202.11 427.11,202.42 427.44,202.81 427.78,203.3 428.11,203.88 428.44,204.54 428.78,205.27 429.11,206.07 429.44,206.92 429.78,207.82 430.11,208.76 430.44,209.74 430.78,210.72 431.11,211.72 431.45,212.72 431.78,213.7 432.11,214.66 432.45,215.58 432.78,216.47 433.11,217.3 433.45,218.07 433.78,218.76 434.11,219.39 434.45,219.92 434.78,220.37 435.11,220.73 435.45,220.99 435.78,221.14 436.11,221.2 436.45,221.15 436.78,221 437.11,220.75 437.45,220.4 437.78,219.96 438.11,219.43 438.45,218.81 438.78,218.12 439.11,217.36 439.45,216.53 439.78,215.65 440.11,214.73 440.45,213.77 440.78,212.79 441.11,211.8 441.45,210.8 441.78,209.81 442.11,208.84 442.45,207.89 442.78,206.99 443.11,206.13 443.45,205.33 443.78,204.59 444.11,203.93 444.45,203.34 444.78,202.85 445.11,202.44 445.45,202.13 445.78,201.92 446.11,201.82 446.45,201.81 446.78,201.91 447.11,202.1 447.45,202.4 447.78,202.8 448.11,203.28 448.45,203.86 448.78,204.51 449.11,205.24 449.45,206.03 449.78,206.88 450.11,207.79 450.45,208.73 450.78,209.7 451.11,210.68 451.45,211.68 451.78,212.68 452.12,213.66 452.45,214.62 452.78,215.55 453.12,216.43 453.45,217.26 453.78,218.04 454.12,218.74 454.45,219.36 454.78,219.9 455.12,220.36 455.45,220.72 455.78,220.98 456.12,221.14 456.45,221.2 456.78,221.16 457.12,221.01 457.45,220.76 457.78,220.42 458.12,219.98 458.45,219.45 458.78,218.84 459.12,218.15 459.45,217.39 459.78,216.57 460.12,215.69 460.45,214.77 460.78,213.81 461.12,212.83 461.45,211.84 461.78,210.84 462.12,209.85 462.45,208.87 462.78,207.93 463.12,207.02 463.45,206.16 463.78,205.36 464.12,204.62 464.45,203.95 464.78,203.37 465.12,202.87 465.45,202.46 465.78,202.14 466.12,201.93 466.45,201.82 466.78,201.81 467.12,201.9 467.45,202.1 467.78,202.39 468.12,202.78 468.45,203.26 468.78,203.83 469.12,204.48 469.45,205.21 469.78,206 470.12,206.85 470.45,207.75 470.78,208.69 471.12,209.66 471.45,210.64 471.78,211.64 472.12,212.64 472.45,213.62 472.79,214.58 473.12,215.51 473.45,216.4 473.79,217.23 474.12,218.01 474.45,218.71 474.79,219.34 475.12,219.88 475.45,220.34 475.79,220.7 476.12,220.97 476.45,221.14 476.79,221.2 477.12,221.16 477.45,221.02 477.79,220.78 478.12,220.44 478.45,220 478.79,219.48 479.12,218.87 479.45,218.18 479.79,217.42 480.12,216.6 480.45,215.72 480.79,214.81 481.12,213.85 481.45,212.87 481.79,211.88 482.12,210.88 482.45,209.89 482.79,208.91 483.12,207.97 483.45,207.06 483.79,206.19 484.12,205.39 484.45,204.65 484.79,203.98 485.12,203.39 485.45,202.88 485.79,202.47 486.12,202.16 486.45,201.94 486.79,201.82 487.12,201.81 487.45,201.9 487.79,202.09 488.12,202.38 488.45,202.76 488.79,203.24 489.12,203.81 489.45,204.45 489.79,205.18 490.12,205.97 490.45,206.81 490.79,207.71 491.12,208.65 491.45,209.62 491.79,210.6 492.12,211.6 492.45,212.6 492.79,213.58 493.12,214.55 493.46,215.48 493.79,216.36 494.12,217.2 494.46,217.98 494.79,218.68 495.12,219.32 495.46,219.86 495.79,220.33 496.12,220.69 496.46,220.96 496.79,221.13 497.12,221.2 497.46,221.16 497.79,221.03 498.12,220.79 498.46,220.45 498.79,220.02 499.12,219.5 499.46,218.89 499.79,218.21 500.12,217.45 500.46,216.63 500.79,215.76 501.12,214.84 501.46,213.89 501.79,212.91 502.12,211.92 502.46,210.92 502.79,209.93 503.12,208.95 503.46,208 503.79,207.09 504.12,206.23 504.46,205.42 504.79,204.67 505.12,204 505.46,203.41 505.79,202.9 506.12,202.49 506.46,202.17 506.79,201.94 507.12,201.82 507.46,201.81 507.79,201.89 508.12,202.08 508.46,202.36 508.79,202.74 509.12,203.22 509.46,203.78 509.79,204.43 510.12,205.15 510.46,205.93 510.79,206.78 511.12,207.67 511.46,208.61 511.79,209.58 512.12,210.56 512.46,211.56 512.79,212.56 513.12,213.54 513.46,214.51 513.79,215.44 514.13,216.33 514.46,217.17 514.79,217.95 515.13,218.66 515.46,219.29 515.79,219.84 516.13,220.31 516.46,220.68 516.79,220.95 517.13,221.13 517.46,221.2 517.79,221.17 518.13,221.03 518.46,220.8 518.79,220.47 519.13,220.04 519.46,219.52 519.79,218.92 520.13,218.24 520.46,217.48 520.79,216.67 521.13,215.8 521.46,214.88 521.79,213.93 522.13,212.95 522.46,211.96 522.79,210.96 523.13,209.97 523.46,208.99 523.79,208.04 524.13,207.13 524.46,206.26 524.79,205.45 525.13,204.7 525.46,204.03 525.79,203.43 526.13,202.92 526.46,202.5 526.79,202.18 527.13,201.95 527.46,201.83 527.79,201.8 528.13,201.88 528.46,202.07 528.79,202.35 529.13,202.73 529.46,203.2 529.79,203.76 530.13,204.4 530.46,205.12 530.79,205.9 531.13,206.74 531.46,207.64 531.79,208.57 532.13,209.54 532.46,210.53 532.79,211.52 533.13,212.52 533.46,213.5 533.79,214.47 534.13,215.4 534.46,216.29 534.8,217.14 535.13,217.92 535.46,218.63 535.8,219.27 536.13,219.82 536.46,220.29 536.8,220.67 537.13,220.94 537.46,221.12 537.8,221.2 538.13,221.17 538.46,221.04 538.8,220.81 539.13,220.48 539.46,220.06 539.8,219.54 540.13,218.94 540.46,218.27 540.8,217.52 541.13,216.7 541.46,215.83 541.8,214.92 542.13,213.97 542.46,212.99 542.8,212 543.13,211 543.46,210.01 543.8,209.03 544.13,208.08 544.46,207.16 544.8,206.3 545.13,205.48 545.46,204.73 545.8,204.05 546.13,203.45 546.46,202.94 546.8,202.52 547.13,202.19 547.46,201.96 547.8,201.83 548.13,201.8 548.46,201.88 548.8,202.06 549.13,202.34 549.46,202.71 549.8,203.18 550.13,203.73 550.46,204.37 550.8,205.09 551.13,205.87 551.46,206.71 551.8,207.6 552.13,208.53 552.46,209.5 552.8,210.49 553.13,211.48 553.46,212.48 553.8,213.47 554.13,214.43 554.46,215.37 554.8,216.26 555.13,217.1 555.47,217.89 555.8,218.6 556.13,219.24 556.47,219.8 556.8,220.27 557.13,220.65 557.47,220.93 557.8,221.12 558.13,221.2 558.47,221.17 558.8,221.05 559.13,220.82 559.47,220.5 559.8,220.08 560.13,219.57 560.47,218.97 560.8,218.29 561.13,217.55 561.47,216.74 561.8,215.87 562.13,214.96 562.47,214.01 562.8,213.03 563.13,212.04 563.47,211.04 563.8,210.05 564.13,209.07 564.47,208.12 564.8,207.2" fill="none" stroke="#111" stroke-width="1.8" stroke-linejoin="round" />
<polyline points="359.1,211.8 359.43,212.16 359.77,212.23 360.1,212.1 360.43,211.82 360.77,211.42 361.1,210.96 361.43,210.46 361.77,209.94 362.1,209.42 362.43,208.91 362.77,208.42 363.1,207.97 363.44,207.55 363.77,207.18 364.1,206.86 364.44,206.58 364.77,206.36 365.1,206.19 365.44,206.08 365.77,206.03 366.1,206.03 366.44,206.08 366.77,206.19 367.1,206.34 367.44,206.55 367.77,206.81 368.1,207.11 368.44,207.45 368.77,207.83 369.1,208.24 369.44,208.69 369.77,209.16 370.1,209.65 370.44,210.16 370.77,210.68 371.11,211.21 371.44,211.74 371.77,212.28 372.11,212.8 372.44,213.32 372.77,213.81 373.11,214.29 373.44,214.75 373.77,215.17 374.11,215.57 374.44,215.92 374.77,216.24 375.11,216.52 375.44,216.75 375.77,216.94 376.11,217.07 376.44,217.16 376.77,217.2 377.11,217.19 377.44,217.13 377.77,217.02 378.11,216.86 378.44,216.66 378.78,216.41 379.11,216.11 379.44,215.78 379.78,215.41 380.11,215.01 380.44,214.58 380.78,214.12 381.11,213.64 381.44,213.15 381.78,212.64 382.11,212.13 382.44,211.61 382.78,211.1 383.11,210.59 383.44,210.09 383.78,209.62 384.11,209.16 384.44,208.73 384.78,208.33 385.11,207.97 385.44,207.64 385.78,207.35 386.11,207.11 386.45,206.91 386.78,206.76 387.11,206.66 387.45,206.61 387.78,206.61 388.11,206.66 388.45,206.76 388.78,206.91 389.11,207.11 389.45,207.36 389.78,207.65 390.11,207.98 390.45,208.35 390.78,208.76 391.11,209.19 391.45,209.65 391.78,210.13 392.11,210.63 392.45,211.14 392.78,211.66 393.11,212.18 393.45,212.69 393.78,213.2 394.12,213.69 394.45,214.16 394.78,214.61 395.12,215.02 395.45,215.41 395.78,215.76 396.12,216.06 396.45,216.33 396.78,216.54 397.12,216.71 397.45,216.82 397.78,216.89 398.12,216.9 398.45,216.85 398.78,216.75 399.12,216.61 399.45,216.4 399.78,216.16 400.12,215.86 400.45,215.52 400.78,215.14 401.12,214.73 401.45,214.28 401.79,213.81 402.12,213.31 402.45,212.8 402.79,212.28 403.12,211.75 403.45,211.23 403.79,210.7 404.12,210.19 404.45,209.7 404.79,209.23 405.12,208.79 405.45,208.38 405.79,208.01 406.12,207.68 406.45,207.4 406.79,207.16 407.12,206.98 407.45,206.85 407.79,206.77 408.12,206.75 408.45,206.79 408.79,206.88 409.12,207.03 409.46,207.23 409.79,207.48 410.12,207.79 410.46,208.13 410.79,208.52 411.12,208.95 411.46,209.41 411.79,209.9 412.12,210.41 412.46,210.93 412.79,211.47 413.12,212.01 413.46,212.55 413.79,213.08 414.12,213.59 414.46,214.09 414.79,214.56 415.12,214.99 415.46,215.39 415.79,215.75 416.12,216.06 416.46,216.33 416.79,216.53 417.13,216.69 417.46,216.79 417.79,216.83 418.13,216.81 418.46,216.73 418.79,216.59 419.13,216.39 419.46,216.15 419.79,215.85 420.13,215.5 420.46,215.1 420.79,214.67 421.13,214.21 421.46,213.71 421.79,213.19 422.13,212.66 422.46,212.11 422.79,211.56 423.13,211.01 423.46,210.48 423.79,209.95 424.13,209.45 424.46,208.98 424.8,208.54 425.13,208.14 425.46,207.79 425.8,207.48 426.13,207.23 426.46,207.03 426.8,206.89 427.13,206.81 427.46,206.79 427.8,206.83 428.13,206.93 428.46,207.09 428.8,207.31 429.13,207.58 429.46,207.9 429.8,208.28 430.13,208.69 430.46,209.15 430.8,209.63 431.13,210.14 431.46,210.68 431.8,211.23 432.13,211.78 432.47,212.33 432.8,212.88 433.13,213.42 433.47,213.93 433.8,214.42 434.13,214.88 434.47,215.3 434.8,215.67 435.13,216 435.47,216.28 435.8,216.5 436.13,216.66 436.47,216.76 436.8,216.81 437.13,216.79 437.47,216.7 437.8,216.56 438.13,216.36 438.47,216.1 438.8,215.79 439.13,215.43 439.47,215.03 439.8,214.58 440.14,214.1 440.47,213.6 440.8,213.07 441.14,212.52 441.47,211.97 441.8,211.41 442.14,210.86 442.47,210.32 442.8,209.8 443.14,209.31 443.47,208.84 443.8,208.41 444.14,208.02 444.47,207.68 444.8,207.39 445.14,207.16 445.47,206.98 445.8,206.86 446.14,206.8 446.47,206.81 446.8,206.87 447.14,206.99 447.47,207.18 447.81,207.42 448.14,207.71 448.47,208.05 448.81,208.44 449.14,208.87 449.47,209.34 449.81,209.83 450.14,210.35 450.47,210.89 450.81,211.43 451.14,211.98 451.47,212.53 451.81,213.07 452.14,213.59 452.47,214.1 452.81,214.57 453.14,215.01 453.47,215.41 453.81,215.77 454.14,216.08 454.47,216.34 454.81,216.54 455.14,216.69 455.48,216.77 455.81,216.8 456.14,216.77 456.48,216.68 456.81,216.53 457.14,216.33 457.48,216.07 457.81,215.76 458.14,215.41 458.48,215.01 458.81,214.57 459.14,214.1 459.48,213.61 459.81,213.1 460.14,212.57 460.48,212.03 460.81,211.49 461.14,210.95 461.48,210.42 461.81,209.91 462.14,209.43 462.48,208.97 462.81,208.54 463.15,208.15 463.48,207.81 463.81,207.51 464.15,207.26 464.48,207.06 464.81,206.92 465.15,206.83 465.48,206.8 465.81,206.83 466.15,206.91 466.48,207.05 466.81,207.24 467.15,207.49 467.48,207.78 467.81,208.12 468.15,208.5 468.48,208.91 468.81,209.36 469.15,209.83 469.48,210.33 469.81,210.84 470.15,211.36 470.48,211.89 470.82,212.42 471.15,212.93 471.48,213.44 471.82,213.92 472.15,214.39 472.48,214.82 472.82,215.22 473.15,215.58 473.48,215.9 473.82,216.18 474.15,216.41 474.48,216.58 474.82,216.71 475.15,216.78 475.48,216.8 475.82,216.77 476.15,216.68 476.48,216.54 476.82,216.35 477.15,216.11 477.48,215.82 477.82,215.5 478.15,215.13 478.49,214.73 478.82,214.3 479.15,213.84 479.49,213.37 479.82,212.87 480.15,212.37 480.49,211.86 480.82,211.35 481.15,210.84 481.49,210.35 481.82,209.87 482.15,209.41 482.49,208.98 482.82,208.58 483.15,208.21 483.49,207.87 483.82,207.58 484.15,207.33 484.49,207.13 484.82,206.97 485.15,206.87 485.49,206.81 485.82,206.8 486.16,206.85 486.49,206.94 486.82,207.08 487.16,207.27 487.49,207.51 487.82,207.78 488.16,208.1 488.49,208.45 488.82,208.84 489.16,209.25 489.49,209.69 489.82,210.15 490.16,210.62 490.49,211.11 490.82,211.6 491.16,212.1 491.49,212.59 491.82,213.07 492.16,213.54 492.49,213.99 492.82,214.42 493.16,214.83 493.49,215.2 493.83,215.54 494.16,215.85 494.49,216.12 494.83,216.34 495.16,216.53 495.49,216.66 495.83,216.75 496.16,216.8 496.49,216.79 496.83,216.74 497.16,216.64 497.49,216.5 497.83,216.31 498.16,216.08 498.49,215.81 498.83,215.5 499.16,215.16 499.49,214.79 499.83,214.39 500.16,213.96 500.49,213.52 500.83,213.06 501.16,212.59 501.5,212.11 501.83,211.63 502.16,211.15 502.5,210.68 502.83,210.21 503.16,209.77 503.5,209.34 503.83,208.93 504.16,208.55 504.5,208.2 504.83,207.89 505.16,207.61 505.5,207.37 505.83,207.17 506.16,207.01 506.5,206.89 506.83,206.82 507.16,206.8 507.5,206.82 507.83,206.89 508.16,207 508.5,207.15 508.83,207.35 509.17,207.58 509.5,207.86 509.83,208.17 510.17,208.51 510.5,208.88 510.83,209.28 511.17,209.7 511.5,210.14 511.83,210.6 512.17,211.06 512.5,211.53" fill="none" stroke="#EE3B3B" stroke-width="1.5" stroke-linejoin="round" />
<polyline points="359.1,212 359.43,212.34 359.77,212.38 360.1,212.2 360.43,211.86 360.77,211.41 361.1,210.88 361.43,210.31 361.77,209.73 362.1,209.14 362.43,208.58 362.77,208.04 363.1,207.55 363.44,207.11 363.77,206.73 364.1,206.41 364.44,206.15 364.77,205.96 365.1,205.84 365.44,205.79 365.77,205.81 366.1,205.91 366.44,206.06 366.77,206.29 367.1,206.58 367.44,206.93 367.77,207.33 368.1,207.78 368.44,208.28 368.77,208.82 369.1,209.39 369.44,210 369.77,210.62 370.1,211.26 370.44,211.9 370.77,212.55 371.11,213.19 371.44,213.82 371.77,214.43 372.11,215.02 372.44,215.57 372.77,216.08 373.11,216.56 373.44,216.98 373.77,217.35 374.11,217.66 374.44,217.92 374.77,218.11 375.11,218.23 375.44,218.29 375.77,218.29 376.11,218.22 376.44,218.08 376.77,217.87 377.11,217.61 377.44,217.28 377.77,216.9 378.11,216.47 378.44,215.99 378.78,215.47 379.11,214.91 379.44,214.32 379.78,213.7 380.11,213.07 380.44,212.43 380.78,211.78 381.11,211.13 381.44,210.5 381.78,209.88 382.11,209.28 382.44,208.71 382.78,208.17 383.11,207.68 383.44,207.23 383.78,206.83 384.11,206.49 384.44,206.21 384.78,205.98 385.11,205.82 385.44,205.73 385.78,205.7 386.11,205.74 386.45,205.84 386.78,206.02 387.11,206.25 387.45,206.54 387.78,206.9 388.11,207.3 388.45,207.76 388.78,208.26 389.11,208.8 389.45,209.38 389.78,209.98 390.11,210.6 390.45,211.24 390.78,211.89 391.11,212.54 391.45,213.18 391.78,213.81 392.11,214.42 392.45,215 392.78,215.56 393.11,216.07 393.45,216.55 393.78,216.97 394.12,217.34 394.45,217.66 394.78,217.91 395.12,218.1 395.45,218.23 395.78,218.29 396.12,218.29 396.45,218.22 396.78,218.08 397.12,217.88 397.45,217.61 397.78,217.29 398.12,216.91 398.45,216.48 398.78,216 399.12,215.48 399.45,214.92 399.78,214.33 400.12,213.72 400.45,213.09 400.78,212.44 401.12,211.79 401.45,211.15 401.79,210.51 402.12,209.89 402.45,209.29 402.79,208.72 403.12,208.19 403.45,207.69 403.79,207.24 404.12,206.84 404.45,206.5 404.79,206.21 405.12,205.99 405.45,205.83 405.79,205.73 406.12,205.7 406.45,205.74 406.79,205.84 407.12,206.01 407.45,206.24 407.79,206.54 408.12,206.89 408.45,207.29 408.79,207.75 409.12,208.25 409.46,208.79 409.79,209.36 410.12,209.96 410.46,210.59 410.79,211.23 411.12,211.87 411.46,212.52 411.79,213.16 412.12,213.79 412.46,214.41 412.79,214.99 413.12,215.55 413.46,216.06 413.79,216.54 414.12,216.96 414.46,217.33 414.79,217.65 415.12,217.91 415.46,218.1 415.79,218.23 416.12,218.29 416.46,218.29 416.79,218.22 417.13,218.08 417.46,217.88 417.79,217.62 418.13,217.3 418.46,216.92 418.79,216.49 419.13,216.01 419.46,215.49 419.79,214.93 420.13,214.35 420.46,213.73 420.79,213.1 421.13,212.46 421.46,211.81 421.79,211.16 422.13,210.53 422.46,209.9 422.79,209.3 423.13,208.73 423.46,208.2 423.79,207.7 424.13,207.25 424.46,206.85 424.8,206.5 425.13,206.22 425.46,205.99 425.8,205.83 426.13,205.73 426.46,205.7 426.8,205.74 427.13,205.84 427.46,206.01 427.8,206.24 428.13,206.53 428.46,206.88 428.8,207.28 429.13,207.74 429.46,208.24 429.8,208.78 430.13,209.35 430.46,209.95 430.8,210.57 431.13,211.21 431.46,211.86 431.8,212.51 432.13,213.15 432.47,213.78 432.8,214.39 433.13,214.98 433.47,215.53 433.8,216.05 434.13,216.52 434.47,216.95 434.8,217.33 435.13,217.64 435.47,217.9 435.8,218.1 436.13,218.23 436.47,218.29 436.8,218.29 437.13,218.22 437.47,218.09 437.8,217.89 438.13,217.63 438.47,217.31 438.8,216.93 439.13,216.5 439.47,216.02 439.8,215.5 440.14,214.95 440.47,214.36 440.8,213.75 441.14,213.12 441.47,212.47 441.8,211.82 442.14,211.18 442.47,210.54 442.8,209.92 443.14,209.32 443.47,208.75 443.8,208.21 444.14,207.71 444.47,207.26 444.8,206.86 445.14,206.51 445.47,206.22 445.8,206 446.14,205.83 446.47,205.73 446.8,205.7 447.14,205.73 447.47,205.84 447.81,206 448.14,206.23 448.47,206.52 448.81,206.87 449.14,207.27 449.47,207.73 449.81,208.22 450.14,208.76 450.47,209.34 450.81,209.94 451.14,210.56 451.47,211.2 451.81,211.84 452.14,212.49 452.47,213.13 452.81,213.77 453.14,214.38 453.47,214.96 453.81,215.52 454.14,216.04 454.47,216.51 454.81,216.94 455.14,217.32 455.48,217.64 455.81,217.9 456.14,218.09 456.48,218.23 456.81,218.29 457.14,218.29 457.48,218.22 457.81,218.09 458.14,217.89 458.48,217.64 458.81,217.32 459.14,216.94 459.48,216.51 459.81,216.04 460.14,215.52 460.48,214.96 460.81,214.37 461.14,213.76 461.48,213.13 461.81,212.49 462.14,211.84 462.48,211.19 462.81,210.56 463.15,209.93 463.48,209.33 463.81,208.76 464.15,208.22 464.48,207.72 464.81,207.27 465.15,206.87 465.48,206.52 465.81,206.23 466.15,206 466.48,205.83 466.81,205.73 467.15,205.7 467.48,205.73 467.81,205.83 468.15,206 468.48,206.22 468.81,206.51 469.15,206.86 469.48,207.26 469.81,207.71 470.15,208.21 470.48,208.75 470.82,209.32 471.15,209.92 471.48,210.54 471.82,211.18 472.15,211.83 472.48,212.48 472.82,213.12 473.15,213.75 473.48,214.36 473.82,214.95 474.15,215.51 474.48,216.03 474.82,216.5 475.15,216.93 475.48,217.31 475.82,217.63 476.15,217.89 476.48,218.09 476.82,218.22 477.15,218.29 477.48,218.29 477.82,218.23 478.15,218.1 478.49,217.9 478.82,217.64 479.15,217.32 479.49,216.95 479.82,216.52 480.15,216.05 480.49,215.53 480.82,214.98 481.15,214.39 481.49,213.78 481.82,213.15 482.15,212.5 482.49,211.86 482.82,211.21 483.15,210.57 483.49,209.95 483.82,209.35 484.15,208.77 484.49,208.23 484.82,207.73 485.15,207.28 485.49,206.88 485.82,206.53 486.16,206.24 486.49,206 486.82,205.84 487.16,205.74 487.49,205.7 487.82,205.73 488.16,205.83 488.49,205.99 488.82,206.22 489.16,206.51 489.49,206.85 489.82,207.25 490.16,207.7 490.49,208.2 490.82,208.74 491.16,209.31 491.49,209.91 491.82,210.53 492.16,211.17 492.49,211.81 492.82,212.46 493.16,213.1 493.49,213.74 493.83,214.35 494.16,214.94 494.49,215.5 494.83,216.02 495.16,216.49 495.49,216.92 495.83,217.3 496.16,217.62 496.49,217.89 496.83,218.09 497.16,218.22 497.49,218.29 497.83,218.29 498.16,218.23 498.49,218.1 498.83,217.91 499.16,217.65 499.49,217.33 499.83,216.96 500.16,216.53 500.49,216.06 500.83,215.54 501.16,214.99 501.5,214.4 501.83,213.79 502.16,213.16 502.5,212.52 502.83,211.87 503.16,211.22 503.5,210.59 503.83,209.96 504.16,209.36 504.5,208.79 504.83,208.25 505.16,207.75 505.5,207.29 505.83,206.89 506.16,206.53 506.5,206.24 506.83,206.01 507.16,205.84 507.5,205.74 507.83,205.7 508.16,205.73 508.5,205.83 508.83,205.99 509.17,206.21 509.5,206.5 509.83,206.84 510.17,207.24 510.5,207.69 510.83,208.19 511.17,208.72 511.5,209.29 511.83,209.89 512.17,210.51 512.5,211.15" fill="none" stroke="#2C8FE0" stroke-width="1.5" stroke-linejoin="round" />
<polyline points="512,211.38 512.33,211.33 512.67,211.27 513,211.22 513.34,211.16 513.67,211.11 514.01,211.05 514.34,211 514.68,210.95 515.01,210.9 515.35,210.85 515.68,210.81 516.02,210.76 516.35,210.72 516.69,210.68 517.02,210.65 517.36,210.62 517.69,210.59 518.03,210.57 518.36,210.55 518.7,210.53 519.03,210.52 519.37,210.51 519.7,210.5 520.04,210.5 520.37,210.5 520.71,210.51 521.04,210.52 521.38,210.53 521.71,210.55 522.05,210.57 522.38,210.6 522.72,210.63 523.05,210.66 523.39,210.69 523.72,210.73 524.06,210.77 524.39,210.82 524.73,210.86 525.06,210.91 525.4,210.96 525.73,211.01 526.07,211.06 526.4,211.12 526.74,211.17 527.07,211.23 527.41,211.28 527.74,211.34 528.08,211.4 528.41,211.45 528.75,211.51 529.08,211.56 529.42,211.61 529.75,211.66 530.09,211.71 530.42,211.76 530.76,211.8 531.09,211.85 531.43,211.89 531.76,211.92 532.1,211.96 532.43,211.99 532.77,212.01 533.1,212.04 533.44,212.06 533.77,212.07 534.11,212.09 534.44,212.09 534.78,212.1 535.11,212.1 535.45,212.1 535.78,212.09 536.12,212.08 536.45,212.06 536.79,212.04 537.12,212.02 537.46,212 537.79,211.97 538.13,211.93 538.46,211.9 538.8,211.86 539.13,211.82 539.47,211.77 539.8,211.73 540.14,211.68 540.47,211.63 540.81,211.58 541.14,211.52 541.48,211.47 541.81,211.42 542.15,211.36 542.48,211.3 542.82,211.25 543.15,211.19 543.49,211.14 543.82,211.08 544.16,211.03 544.49,210.98 544.83,210.93 545.16,210.88 545.5,210.83 545.83,210.79 546.17,210.74 546.5,210.71" fill="none" stroke="#EE3B3B" stroke-width="1.2" stroke-linejoin="round" />
<polyline points="512,212.3 512.34,212.3 512.67,212.3 513.01,212.3 513.34,212.29 513.68,212.29 514.01,212.28 514.35,212.27 514.68,212.25 515.02,212.24 515.35,212.22 515.69,212.2 516.02,212.18 516.36,212.16 516.69,212.14 517.03,212.11 517.36,212.09 517.7,212.06 518.03,212.03 518.37,212 518.7,211.96 519.04,211.93 519.37,211.9 519.71,211.86 520.05,211.83 520.38,211.79 520.72,211.76 521.05,211.72 521.39,211.69 521.72,211.65 522.06,211.61 522.39,211.58 522.73,211.54 523.06,211.51 523.4,211.47 523.73,211.44 524.07,211.41 524.4,211.38 524.74,211.35 525.07,211.32 525.41,211.29 525.74,211.27 526.08,211.24 526.41,211.22 526.75,211.2 527.08,211.18 527.42,211.16 527.75,211.15 528.09,211.13 528.43,211.12 528.76,211.11 529.1,211.11 529.43,211.1 529.77,211.1 530.1,211.1 530.44,211.1 530.77,211.11 531.11,211.11 531.44,211.12 531.78,211.13 532.11,211.14 532.45,211.16 532.78,211.17 533.12,211.19 533.45,211.21 533.79,211.23 534.12,211.26 534.46,211.28 534.79,211.31 535.13,211.34 535.46,211.37 535.8,211.4 536.14,211.43 536.47,211.46 536.81,211.49 537.14,211.53 537.48,211.56 537.81,211.6 538.15,211.64 538.48,211.67 538.82,211.71 539.15,211.74 539.49,211.78 539.82,211.81 540.16,211.85 540.49,211.88 540.83,211.92 541.16,211.95 541.5,211.98 541.83,212.02 542.17,212.05 542.5,212.07 542.84,212.1 543.17,212.13 543.51,212.15 543.85,212.18 544.18,212.2 544.52,212.22 544.85,212.23 545.19,212.25 545.52,212.26 545.86,212.27 546.19,212.28 546.53,212.29 546.86,212.3 547.2,212.3 547.53,212.3 547.87,212.3 548.2,212.3 548.54,212.29 548.87,212.28 549.21,212.27 549.54,212.26 549.88,212.25 550.21,212.23 550.55,212.21 550.88,212.19 551.22,212.17 551.55,212.15 551.89,212.12 552.23,212.1 552.56,212.07 552.9,212.04 553.23,212.01 553.57,211.98 553.9,211.95 554.24,211.91 554.57,211.88 554.91,211.84 555.24,211.81 555.58,211.77 555.91,211.74 556.25,211.7 556.58,211.66 556.92,211.63 557.25,211.59 557.59,211.56 557.92,211.52 558.26,211.49 558.59,211.45 558.93,211.42 559.26,211.39 559.6,211.36" fill="none" stroke="#2F4FB0" stroke-width="1.2" stroke-linejoin="round" />
<rect x="509.75" y="203.85" width="2.9" height="2.9" fill="#E00000"/>
<rect x="528.55" y="200.75" width="2.9" height="2.9" fill="#1F3C9C"/>
</g>
<rect x="349.5" y="144.5" width="225" height="114" fill="none" stroke="#444" stroke-width="1"/>
<text stroke="#111" stroke-width="0.07" x="350.2" y="276.8" font-size="8" font-family="Liberation Sans, sans-serif" fill="#111" textLength="28.0" lengthAdjust="spacingAndGlyphs">SF-FFT</text>
<text stroke="#111" stroke-width="0.07" x="0" y="0" font-size="7" font-family="Liberation Sans, sans-serif" fill="#111" text-anchor="middle" transform="translate(340.2 329.8) rotate(-90)">Amplitude</text>
<text x="348.1" y="287.5" font-size="5.2" font-family="Liberation Sans, sans-serif" fill="#111" text-anchor="end" dominant-baseline="central">3</text>
<line x1="348.7" x2="350.5" y1="287.5" y2="287.5" stroke="#333" stroke-width="0.5"/>
<text x="348.1" y="307.5" font-size="5.2" font-family="Liberation Sans, sans-serif" fill="#111" text-anchor="end" dominant-baseline="central">2</text>
<line x1="348.7" x2="350.5" y1="307.5" y2="307.5" stroke="#333" stroke-width="0.5"/>
<text x="348.1" y="327.5" font-size="5.2" font-family="Liberation Sans, sans-serif" fill="#111" text-anchor="end" dominant-baseline="central">1</text>
<line x1="348.7" x2="350.5" y1="327.5" y2="327.5" stroke="#333" stroke-width="0.5"/>
<text x="348.1" y="347.5" font-size="5.2" font-family="Liberation Sans, sans-serif" fill="#111" text-anchor="end" dominant-baseline="central">0</text>
<line x1="348.7" x2="350.5" y1="347.5" y2="347.5" stroke="#333" stroke-width="0.5"/>
<text x="348.1" y="367.5" font-size="5.2" font-family="Liberation Sans, sans-serif" fill="#111" text-anchor="end" dominant-baseline="central">-1</text>
<line x1="348.7" x2="350.5" y1="367.5" y2="367.5" stroke="#333" stroke-width="0.5"/>
<text x="348.1" y="387.5" font-size="5.2" font-family="Liberation Sans, sans-serif" fill="#111" text-anchor="end" dominant-baseline="central">-2</text>
<line x1="348.7" x2="350.5" y1="387.5" y2="387.5" stroke="#333" stroke-width="0.5"/>
<text x="359.6" y="400.1" font-size="5.4" font-family="Liberation Sans, sans-serif" fill="#111" text-anchor="middle">0.0</text>
<line x1="359.6" x2="359.6" y1="394.5" y2="396.3" stroke="#333" stroke-width="0.5"/>
<text x="398.6" y="400.1" font-size="5.4" font-family="Liberation Sans, sans-serif" fill="#111" text-anchor="middle">0.2</text>
<line x1="398.6" x2="398.6" y1="394.5" y2="396.3" stroke="#333" stroke-width="0.5"/>
<text x="437.6" y="400.1" font-size="5.4" font-family="Liberation Sans, sans-serif" fill="#111" text-anchor="middle">0.4</text>
<line x1="437.6" x2="437.6" y1="394.5" y2="396.3" stroke="#333" stroke-width="0.5"/>
<text x="476.6" y="400.1" font-size="5.4" font-family="Liberation Sans, sans-serif" fill="#111" text-anchor="middle">0.6</text>
<line x1="476.6" x2="476.6" y1="394.5" y2="396.3" stroke="#333" stroke-width="0.5"/>
<text x="515.6" y="400.1" font-size="5.4" font-family="Liberation Sans, sans-serif" fill="#111" text-anchor="middle">0.8</text>
<line x1="515.6" x2="515.6" y1="394.5" y2="396.3" stroke="#333" stroke-width="0.5"/>
<text x="554.6" y="400.1" font-size="5.4" font-family="Liberation Sans, sans-serif" fill="#111" text-anchor="middle">1.0</text>
<line x1="554.6" x2="554.6" y1="394.5" y2="396.3" stroke="#333" stroke-width="0.5"/>
<clipPath id="cp2"><rect x="350.5" y="280.5" width="224" height="114"/></clipPath>
<g clip-path="url(#cp2)">
<polyline points="359.6,347.5 359.85,337.64 360.1,343.07 360.35,338.21 360.6,365.18 360.85,344.99 361.1,322.15 361.35,342.95 361.61,352.44 361.86,350.23 362.11,375.29 362.36,374.35 362.61,314.39 362.86,347.81 363.11,299.5 363.36,335.03 363.61,306.7 363.86,352.21 364.11,329.76 364.36,340.4 364.61,330.65 364.86,334.33 365.12,345.15 365.37,331.53 365.62,349.13 365.87,382.43 366.12,295.5 366.37,323.62 366.62,303.3 366.87,349.73 367.12,336.78 367.37,377.03 367.62,323.65 367.87,349.65 368.12,340.21 368.37,306.81 368.62,336.36 368.88,320.07 369.13,375.25 369.38,363.16 369.63,331.62 369.88,347.31 370.13,339.93 370.38,356.81 370.63,345.73 370.88,355.71 371.13,333.44 371.38,350.92 371.63,335.73 371.88,361.06 372.13,352.41 372.39,362.22 372.64,323.24 372.89,328.79 373.14,334.91 373.39,357.09 373.64,350.18 373.89,319.95 374.14,320.87 374.39,352.5 374.64,328.51 374.89,333.78 375.14,342.2 375.39,353.98 375.64,345.52 375.89,334.2 376.15,345.54 376.4,334.01 376.65,364.5 376.9,345.83 377.15,325.29 377.4,368.22 377.65,370.67 377.9,323.38 378.15,355.58 378.4,335.23 378.65,369.32 378.9,337.5 379.15,337.11 379.4,374.72 379.66,358.78 379.91,340.51 380.16,327.82 380.41,352.19 380.66,333.63 380.91,331.54 381.16,366.99 381.41,323.01 381.66,354.48 381.91,328.45 382.16,309.28 382.41,330.93 382.66,343.72 382.91,321.05 383.16,350.88 383.42,370.28 383.67,325.42 383.92,347.87 384.17,311.03 384.42,350.29 384.67,327.13 384.92,341.8 385.17,373.55 385.42,349.4 385.67,320.82 385.92,315.43 386.17,333.76 386.42,334.33 386.67,312.63 386.93,315.66 387.18,337.43 387.43,372.54 387.68,330.27 387.93,370.25 388.18,382.45 388.43,333.13 388.68,338.89 388.93,366.74 389.18,326.89 389.43,326.93 389.68,317.92 389.93,341.32 390.18,313.69 390.43,361.46 390.69,333.09 390.94,361.51 391.19,360.42 391.44,363.55 391.69,301.5 391.94,310.91 392.19,329.67 392.44,384.36 392.69,367.32 392.94,374.14 393.19,359.32 393.44,335.36 393.69,344.36 393.94,345.34 394.2,327.92 394.45,338.17 394.7,340.73 394.95,348.14 395.2,346.01 395.45,343.77 395.7,358.47 395.95,358.93 396.2,331.02 396.45,319.48 396.7,356.25 396.95,345.34 397.2,355 397.45,348.6 397.7,337.66 397.96,335.11 398.21,352.17 398.46,331.32 398.71,313.73 398.96,360.93 399.21,304.51 399.46,366.81 399.71,308.41 399.96,326.09 400.21,303.13 400.46,355.61 400.71,318.91 400.96,354.54 401.21,317.73 401.47,323.66 401.72,307.24 401.97,320.33 402.22,340.34 402.47,375.32 402.72,333.73 402.97,331.01 403.22,360.47 403.47,336.41 403.72,346.13 403.97,319.26 404.22,345.9 404.47,341.06 404.72,331.8 404.97,325.64 405.23,323.63 405.48,358.34 405.73,335.43 405.98,327.45 406.23,352.28 406.48,331.41 406.73,349.21 406.98,342.99 407.23,353.63 407.48,332.78 407.73,325.89 407.98,326.4 408.23,334.83 408.48,318.09 408.74,332.24 408.99,355.36 409.24,334.56 409.49,318.39 409.74,355.4 409.99,346.85 410.24,306.26 410.49,373.35 410.74,383.13 410.99,352.96 411.24,318.93 411.49,369.46 411.74,338.1 411.99,335.9 412.24,368.58 412.5,320.67 412.75,319.87 413,374.5 413.25,349.43 413.5,348.41 413.75,317.57 414,381.34 414.25,344.51 414.5,370.22 414.75,334.06 415,368.77 415.25,322.84 415.5,350.22 415.75,355.31 416.01,352.7 416.26,338.87 416.51,358.91 416.76,355.59 417.01,333.34 417.26,339.13 417.51,364.48 417.76,330.14 418.01,363.77 418.26,333.56 418.51,318.85 418.76,355.75 419.01,362.18 419.26,341.69 419.51,348.74 419.77,350.19 420.02,389.5 420.27,352.11 420.52,383.2 420.77,362.2 421.02,340.41 421.27,357.59 421.52,349.17 421.77,351.07 422.02,361.75 422.27,346.61 422.52,357.89 422.77,338.28 423.02,351.68 423.28,325.35 423.53,342.8 423.78,339.91 424.03,336.7 424.28,343.04 424.53,330.91 424.78,340.79 425.03,350.82 425.28,328.39 425.53,344.2 425.78,353.08 426.03,350.26 426.28,340.28 426.53,344.9 426.78,336.31 427.04,359.15 427.29,376.15 427.54,361.9 427.79,319.14 428.04,361.35 428.29,338.42 428.54,342 428.79,347.73 429.04,348.66 429.29,348.7 429.54,318.73 429.79,343.75 430.04,367.75 430.29,350.06 430.55,374.95 430.8,364.29 431.05,357.06 431.3,333.9 431.55,346.24 431.8,344.08 432.05,367.51 432.3,362.91 432.55,334.08 432.8,362.73 433.05,331.79 433.3,341.77 433.55,333.26 433.8,325.56 434.05,362.38 434.31,343.26 434.56,332.49 434.81,318.62 435.06,333.91 435.31,325.93 435.56,342.46 435.81,330.41 436.06,295.5 436.31,344.99 436.56,303.3 436.81,317.56 437.06,316.65 437.31,325.44 437.56,325.96 437.82,316.7 438.07,286.5 438.32,349.42 438.57,295.65 438.82,332.63 439.07,355.74 439.32,345.79 439.57,318.73 439.82,326.21 440.07,293.5 440.32,317.11 440.57,301.6 440.82,348.99 441.07,362.26 441.32,346.85 441.58,312.91 441.83,373.9 442.08,369.42 442.33,359.07 442.58,315.54 442.83,357.78 443.08,356.45 443.33,342.58 443.58,322.37 443.83,348.91 444.08,332.59 444.33,310.76 444.58,374.05 444.83,318.21 445.09,361.93 445.34,337.47 445.59,381.72 445.84,308.19 446.09,301.5 446.34,313.02 446.59,308.4 446.84,326.18 447.09,334.39 447.34,356.26 447.59,332.7 447.84,350.46 448.09,360.6 448.34,319.9 448.59,347.49 448.85,319.82 449.1,357.55 449.35,333.51 449.6,336.57 449.85,356.52 450.1,337.64 450.35,313.47 450.6,361.06 450.85,361.6 451.1,319.64 451.35,313.53 451.6,340.41 451.85,371.86 452.1,355.96 452.36,345.6 452.61,305.29 452.86,325.49 453.11,320.33 453.36,342.51 453.61,363.54 453.86,332.16 454.11,314.43 454.36,330.32 454.61,321.75 454.86,338.98 455.11,338.95 455.36,367.39 455.61,351.79 455.86,343.91 456.12,330.83 456.37,354.98 456.62,348 456.87,358.03 457.12,336.84 457.37,347.24 457.62,322.04 457.87,328.94 458.12,321.14 458.37,370.54 458.62,340.71 458.87,337.94 459.12,362.26 459.37,348.02 459.63,357.92 459.88,366.89 460.13,325.63 460.38,351.81 460.63,355.53 460.88,345.13 461.13,330.28 461.38,365.15 461.63,369.33 461.88,368.69 462.13,385.65 462.38,331.52 462.63,353.17 462.88,368.57 463.13,355.94 463.39,370.2 463.64,330.22 463.89,330.51 464.14,363.67 464.39,310.91 464.64,310.36 464.89,315.11 465.14,348.42 465.39,343.8 465.64,383.63 465.89,313.27 466.14,326.09 466.39,330.87 466.64,320.98 466.9,354.96 467.15,330.73 467.4,324.5 467.65,353.47 467.9,333.88 468.15,342.91 468.4,339.83 468.65,350.74 468.9,316.62 469.15,352.48 469.4,326.34 469.65,319.56 469.9,362.15 470.15,332.79 470.4,363.17 470.66,358.97 470.91,308.47 471.16,331.66 471.41,326.21 471.66,348.21 471.91,361.58 472.16,370.93 472.41,330.25 472.66,316.46 472.91,353.29 473.16,344.4 473.41,324.68 473.66,378.99 473.91,331.46 474.17,304.93 474.42,370.45 474.67,301.5 474.92,311.82 475.17,315.26 475.42,369.53 475.67,351.35 475.92,321.01 476.17,324.68 476.42,350.28 476.67,321.42 476.92,360.24 477.17,337.41 477.42,322.63 477.67,329.36 477.93,318.3 478.18,341.68 478.43,312.03 478.68,314.08 478.93,335.48 479.18,319.46 479.43,360.96 479.68,348.35 479.93,303.5 480.18,321.52 480.43,310.1 480.68,325.29 480.93,324.04 481.18,350.28 481.44,330.61 481.69,364.91 481.94,362.5 482.19,345.82 482.44,343.17 482.69,319.31 482.94,326.88 483.19,355.3 483.44,365.92 483.69,333.88 483.94,362.98 484.19,359.67 484.44,340.58 484.69,331.51 484.94,338.93 485.2,337.45 485.45,325.15 485.7,313.59 485.95,344.51 486.2,338.24 486.45,345.93 486.7,329.33 486.95,333.2 487.2,348.35 487.45,350.7 487.7,324.48 487.95,367.14 488.2,339.8 488.45,329.25 488.71,345.92 488.96,312.26 489.21,321.35 489.46,338.17 489.71,346.27 489.96,326.69 490.21,328.74 490.46,321.83 490.71,353.53 490.96,358.99 491.21,341.31 491.46,341.79 491.71,334.24 491.96,321.79 492.21,332.87 492.47,349.53 492.72,331.3 492.97,313.1 493.22,337.81 493.47,346.59 493.72,351.1 493.97,377.05 494.22,381.56 494.47,331.59 494.72,366.38 494.97,328.92 495.22,337.24 495.47,319.93 495.72,315.95 495.98,344.04 496.23,322.21 496.48,352.8 496.73,310.99 496.98,333.06 497.23,327.48 497.48,338.68 497.73,357.21 497.98,320.73 498.23,320.48 498.48,318.23 498.73,333.33 498.98,306.13 499.23,374.42 499.48,342.55 499.74,366.86 499.99,323.5 500.24,355.9 500.49,340.32 500.74,344.98 500.99,346.3 501.24,355.44 501.49,332.58 501.74,364.43 501.99,349.19 502.24,359.27 502.49,366.89 502.74,369.81 502.99,348.47 503.25,362.66 503.5,358.96 503.75,303.6 504,337.65 504.25,327.95 504.5,326.53 504.75,351.71 505,359.74" fill="none" stroke="#C69E4C" stroke-width="0.8" stroke-linejoin="round" stroke-opacity="0.8"/>
<polyline points="359.5,347.66 359.83,346.59 360.17,345.53 360.5,344.49 360.83,343.49 361.17,342.54 361.5,341.65 361.83,340.82 362.17,340.07 362.5,339.41 362.83,338.84 363.17,338.38 363.5,338.02 363.83,337.77 364.17,337.63 364.5,337.61 364.83,337.7 365.17,337.9 365.5,338.22 365.83,338.64 366.17,339.17 366.5,339.8 366.83,340.51 367.17,341.31 367.5,342.17 367.83,343.1 368.17,344.09 368.5,345.11 368.83,346.16 369.17,347.23 369.5,348.3 369.83,349.36 370.17,350.41 370.5,351.42 370.83,352.38 371.17,353.3 371.5,354.14 371.83,354.92 372.17,355.6 372.5,356.2 372.83,356.7 373.17,357.09 373.5,357.37 373.83,357.54 374.17,357.6 374.5,357.54 374.83,357.37 375.17,357.09 375.5,356.69 375.83,356.19 376.17,355.6 376.5,354.91 376.83,354.14 377.17,353.29 377.5,352.38 377.83,351.41 378.17,350.4 378.5,349.35 378.83,348.29 379.17,347.22 379.5,346.15 379.83,345.1 380.17,344.08 380.5,343.1 380.83,342.17 381.17,341.3 381.5,340.5 381.83,339.79 382.17,339.17 382.5,338.64 382.83,338.22 383.17,337.9 383.5,337.7 383.83,337.6 384.17,337.63 384.5,337.77 384.83,338.02 385.17,338.38 385.5,338.85 385.83,339.42 386.17,340.08 386.5,340.83 386.83,341.65 387.17,342.55 387.5,343.5 387.83,344.5 388.17,345.54 388.5,346.6 388.83,347.67 389.17,348.74 389.5,349.79 389.83,350.83 390.17,351.82 390.5,352.77 390.83,353.65 391.17,354.47 391.5,355.21 391.83,355.86 392.17,356.42 392.5,356.87 392.83,357.22 393.17,357.46 393.5,357.58 393.83,357.59 394.17,357.49 394.5,357.27 394.83,356.94 395.17,356.5 395.5,355.96 395.83,355.33 396.17,354.6 396.5,353.8 396.83,352.92 397.17,351.98 397.5,351 397.83,349.97 398.17,348.92 398.5,347.85 398.83,346.78 399.17,345.72 399.5,344.68 399.83,343.67 400.17,342.71 400.5,341.8 400.83,340.96 401.17,340.2 401.5,339.52 401.83,338.94 402.17,338.45 402.5,338.07 402.83,337.8 403.17,337.64 403.5,337.6 403.83,337.67 404.17,337.86 404.5,338.15 404.83,338.56 405.17,339.07 405.5,339.68 405.83,340.38 406.17,341.16 406.5,342.01 406.83,342.93 407.17,343.91 407.5,344.92 407.83,345.97 408.17,347.03 408.5,348.11 408.83,349.17 409.17,350.22 409.5,351.24 409.83,352.21 410.17,353.14 410.5,354 410.83,354.78 411.17,355.49 411.5,356.1 411.83,356.61 412.17,357.03 412.5,357.33 412.83,357.52 413.17,357.6 413.5,357.56 413.83,357.41 414.17,357.14 414.5,356.77 414.83,356.29 415.17,355.71 415.5,355.04 415.83,354.28 416.17,353.45 416.5,352.54 416.83,351.59 417.17,350.58 417.5,349.54 417.83,348.48 418.17,347.41 418.5,346.34 418.83,345.29 419.17,344.26 419.5,343.27 419.83,342.33 420.17,341.45 420.5,340.64 420.83,339.91 421.17,339.27 421.5,338.73 421.83,338.28 422.17,337.95 422.5,337.72 422.83,337.61 423.17,337.62 423.5,337.73 423.83,337.97 424.17,338.31 424.5,338.76 424.83,339.31 425.17,339.95 425.5,340.69 425.83,341.5 426.17,342.38 426.5,343.33 426.83,344.32 427.17,345.35 427.5,346.4 427.83,347.47 428.17,348.54 428.5,349.61 428.83,350.64 429.17,351.64 429.5,352.6 429.83,353.5 430.17,354.33 430.5,355.08 430.83,355.75 431.17,356.32 431.5,356.8 431.83,357.16 432.17,357.42 432.5,357.57 432.83,357.6 433.17,357.51 433.5,357.31 433.83,357 434.17,356.59 434.5,356.07 434.83,355.45 435.17,354.74 435.5,353.95 435.83,353.08 436.17,352.16 436.5,351.18 436.83,350.16 437.17,349.11 437.5,348.04 437.83,346.97 438.17,345.91 438.5,344.86 438.83,343.85 439.17,342.88 439.5,341.96 439.83,341.11 440.17,340.33 440.5,339.64 440.83,339.04 441.17,338.53 441.5,338.13 441.83,337.84 442.17,337.66 442.5,337.6 442.83,337.65 443.17,337.82 443.5,338.09 443.83,338.48 444.17,338.97 444.5,339.56 444.83,340.24 445.17,341.01 445.5,341.85 445.83,342.76 446.17,343.73 446.5,344.74 446.83,345.78 447.17,346.84 447.5,347.91 447.83,348.98 448.17,350.03 448.5,351.06 448.83,352.04 449.17,352.98 449.5,353.85 449.83,354.65 450.17,355.37 450.5,356 450.83,356.53 451.17,356.96 451.5,357.28 451.83,357.49 452.17,357.59 452.5,357.58 452.83,357.44 453.17,357.2 453.5,356.85 453.83,356.38 454.17,355.82 454.5,355.17 454.83,354.42 455.17,353.6 455.5,352.71 455.83,351.76 456.17,350.76 456.5,349.73 456.83,348.67 457.17,347.6 457.5,346.53 457.83,345.47 458.17,344.44 458.5,343.44 458.83,342.49 459.17,341.6 459.5,340.78 459.83,340.04 460.17,339.38 460.5,338.82 460.83,338.36 461.17,338 461.5,337.76 461.83,337.62 462.17,337.61 462.5,337.7 462.83,337.92 463.17,338.24 463.5,338.67 463.83,339.2 464.17,339.83 464.5,340.55 464.83,341.35 465.17,342.22 465.5,343.15 465.83,344.14 466.17,345.16 466.5,346.21 466.83,347.28 467.17,348.35 467.5,349.42 467.83,350.46 468.17,351.47 468.5,352.43 468.83,353.34 469.17,354.18 469.5,354.95 469.83,355.64 470.17,356.23 470.5,356.72 470.83,357.11 471.17,357.38 471.5,357.55 471.83,357.6 472.17,357.54 472.5,357.36 472.83,357.07 473.17,356.67 473.5,356.17 473.83,355.56 474.17,354.87 474.5,354.1 474.83,353.24 475.17,352.33 475.5,351.36 475.83,350.34 476.17,349.3 476.5,348.23 476.83,347.16 477.17,346.1 477.5,345.05 477.83,344.03 478.17,343.05 478.5,342.12 478.83,341.26 479.17,340.47 479.5,339.76 479.83,339.14 480.17,338.62 480.5,338.2 480.83,337.89 481.17,337.69 481.5,337.6 481.83,337.63 482.17,337.78 482.5,338.03 482.83,338.4 483.17,338.87 483.5,339.45 483.83,340.11 484.17,340.87 484.5,341.7 484.83,342.6 485.17,343.55 485.5,344.55 485.83,345.59 486.17,346.65 486.5,347.72 486.83,348.79 487.17,349.85 487.5,350.88 487.83,351.87 488.17,352.81 488.5,353.7 488.83,354.51 489.17,355.24 489.5,355.89 489.83,356.44 490.17,356.89 490.5,357.23 490.83,357.46 491.17,357.58 491.5,357.59 491.83,357.48 492.17,357.25 492.5,356.92 492.83,356.48 493.17,355.93 493.5,355.29 493.83,354.56 494.17,353.75 494.5,352.88 494.83,351.94 495.17,350.95 495.5,349.92 495.83,348.86 496.17,347.8 496.5,346.72 496.83,345.66 497.17,344.62 497.5,343.62 497.83,342.66 498.17,341.76 498.5,340.92 498.83,340.16 499.17,339.49 499.5,338.91 499.83,338.43 500.17,338.06 500.5,337.79 500.83,337.64 501.17,337.6 501.5,337.68 501.83,337.87 502.17,338.17 502.5,338.58 502.83,339.1 503.17,339.71 503.5,340.41 503.83,341.2 504.17,342.06 504.5,342.98 504.83,343.96 505.17,344.97 505.5,346.02 505.83,347.09 506.17,348.16 506.5,349.23 506.83,350.27 507.17,351.29 507.5,352.26 507.83,353.18 508.17,354.04 508.5,354.82 508.83,355.52 509.17,356.13 509.5,356.64 509.83,357.04 510.17,357.34 510.5,357.53 510.83,357.6 511.17,357.56 511.5,357.4 511.83,357.13 512.17,356.75 512.5,356.26 512.83,355.68 513.17,355 513.5,354.24 513.83,353.4 514.17,352.5 514.5,351.54 514.83,350.53 515.17,349.49 515.5,348.43 515.83,347.36 516.17,346.29 516.5,345.23 516.83,344.21 517.17,343.22 517.5,342.28 517.83,341.41 518.17,340.6 518.5,339.88 518.83,339.24 519.17,338.7 519.5,338.27 519.83,337.93 520.17,337.72 520.5,337.61 520.83,337.62 521.17,337.74 521.5,337.98 521.83,338.33 522.17,338.78 522.5,339.34 522.83,339.99 523.17,340.73 523.5,341.54 523.83,342.43 524.17,343.38 524.5,344.37 524.83,345.4 525.17,346.46 525.5,347.53 525.83,348.6 526.17,349.66 526.5,350.69 526.83,351.69 527.17,352.65 527.5,353.54 527.83,354.37 528.17,355.12 528.5,355.78 528.83,356.35 529.17,356.82 529.5,357.18 529.83,357.43 530.17,357.57 530.5,357.6 530.83,357.51 531.17,357.3 531.5,356.99 531.83,356.56 532.17,356.04 532.5,355.41 532.83,354.7 533.17,353.91 533.5,353.04 533.83,352.11 534.17,351.13 534.5,350.11 534.83,349.06 535.17,347.99 535.5,346.92 535.83,345.85 536.17,344.81 536.5,343.8 536.83,342.83 537.17,341.92 537.5,341.07 537.83,340.3 538.17,339.61 538.5,339.01 538.83,338.51 539.17,338.12 539.5,337.83 539.83,337.66 540.17,337.6 540.5,337.66 540.83,337.83 541.17,338.11 541.5,338.5 541.83,339 542.17,339.59 542.5,340.28 542.83,341.05 543.17,341.9 543.5,342.81 543.83,343.78 544.17,344.79 544.5,345.83 544.83,346.9 545.17,347.97 545.5,349.03 545.83,350.09 546.17,351.11 546.5,352.09 546.83,353.02 547.17,353.89 547.5,354.69 547.83,355.4 548.17,356.02 548.5,356.55 548.83,356.98 549.17,357.3 549.5,357.5 549.83,357.59 550.17,357.57 550.5,357.44 550.83,357.19 551.17,356.83 551.5,356.36 551.83,355.79 552.17,355.13 552.5,354.38 552.83,353.56 553.17,352.66 553.5,351.71 553.83,350.71 554.17,349.68 554.5,348.62" fill="none" stroke="#111" stroke-width="1.8" stroke-linejoin="round" />
<polyline points="359.4,329.05 359.73,328.36 360.07,327.89 360.4,327.64 360.74,327.62 361.07,327.82 361.4,328.25 361.74,328.9 362.07,329.77 362.41,330.83 362.74,332.08 363.07,333.51 363.41,335.1 363.74,336.83 364.08,338.69 364.41,340.64 364.74,342.67 365.08,344.76 365.41,346.89 365.75,349.02 366.08,351.13 366.42,353.2 366.75,355.21 367.08,357.14 367.42,358.95 367.75,360.64 368.09,362.18 368.42,363.55 368.75,364.74 369.09,365.74 369.42,366.53 369.76,367.11 370.09,367.47 370.42,367.6 370.76,367.5 371.09,367.18 371.43,366.64 371.76,365.88 372.09,364.91 372.43,363.75 372.76,362.4 373.1,360.89 373.43,359.22 373.76,357.43 374.1,355.52 374.43,353.52 374.77,351.46 375.1,349.35 375.43,347.22 375.77,345.1 376.1,343 376.44,340.96 376.77,338.99 377.1,337.12 377.44,335.36 377.77,333.75 378.11,332.3 378.44,331.01 378.78,329.92 379.11,329.03 379.44,328.34 379.78,327.88 380.11,327.64 380.45,327.62 380.78,327.83 381.11,328.27 381.45,328.92 381.78,329.79 382.12,330.86 382.45,332.12 382.78,333.55 383.12,335.15 383.45,336.88 383.79,338.74 384.12,340.7 384.45,342.73 384.79,344.82 385.12,346.94 385.46,349.07 385.79,351.19 386.12,353.26 386.46,355.27 386.79,357.19 387.13,359 387.46,360.68 387.79,362.22 388.13,363.59 388.46,364.77 388.8,365.77 389.13,366.55 389.46,367.12 389.8,367.47 390.13,367.6 390.47,367.5 390.8,367.17 391.14,366.62 391.47,365.86 391.8,364.88 392.14,363.72 392.47,362.36 392.81,360.85 393.14,359.18 393.47,357.38 393.81,355.47 394.14,353.47 394.48,351.4 394.81,349.29 395.14,347.16 395.48,345.04 395.81,342.94 396.15,340.9 396.48,338.93 396.81,337.07 397.15,335.32 397.48,333.71 397.82,332.26 398.15,330.98 398.48,329.89 398.82,329 399.15,328.33 399.49,327.87 399.82,327.63 400.15,327.62 400.49,327.84 400.82,328.28 401.16,328.95 401.49,329.82 401.82,330.89 402.16,332.16 402.49,333.6 402.83,335.19 403.16,336.93 403.5,338.79 403.83,340.75 404.16,342.79 404.5,344.88 404.83,347 405.17,349.13 405.5,351.24 405.83,353.31 406.17,355.32 406.5,357.24 406.84,359.05 407.17,360.73 407.5,362.26 407.84,363.62 408.17,364.8 408.51,365.79 408.84,366.57 409.17,367.14 409.51,367.48 409.84,367.6 410.18,367.49 410.51,367.16 410.84,366.6 411.18,365.83 411.51,364.85 411.85,363.68 412.18,362.32 412.51,360.8 412.85,359.13 413.18,357.33 413.52,355.41 413.85,353.41 414.18,351.34 414.52,349.23 414.85,347.1 415.19,344.98 415.52,342.89 415.86,340.85 416.19,338.88 416.52,337.02 416.86,335.27 417.19,333.67 417.53,332.22 417.86,330.95 418.19,329.86 418.53,328.98 418.86,328.31 419.2,327.86 419.53,327.63 419.86,327.63 420.2,327.85 420.53,328.3 420.87,328.97 421.2,329.85 421.53,330.93 421.87,332.19 422.2,333.64 422.54,335.24 422.87,336.98 423.2,338.84 423.54,340.81 423.87,342.85 424.21,344.94 424.54,347.06 424.87,349.19 425.21,351.3 425.54,353.37 425.88,355.37 426.21,357.29 426.54,359.1 426.88,360.77 427.21,362.3 427.55,363.66 427.88,364.83 428.22,365.81 428.55,366.59 428.88,367.15 429.22,367.49 429.55,367.6 429.89,367.49 430.22,367.15 430.55,366.58 430.89,365.81 431.22,364.82 431.56,363.65 431.89,362.28 432.22,360.76 432.56,359.08 432.89,357.27 433.23,355.36 433.56,353.35 433.89,351.28 434.23,349.17 434.56,347.04 434.9,344.92 435.23,342.83 435.56,340.79 435.9,338.83 436.23,336.97 436.57,335.23 436.9,333.63 437.23,332.18 437.57,330.92 437.9,329.84 438.24,328.96 438.57,328.3 438.9,327.85 439.24,327.63 439.57,327.63 439.91,327.86 440.24,328.32 440.58,328.99 440.91,329.87 441.24,330.96 441.58,332.23 441.91,333.68 442.25,335.29 442.58,337.03 442.91,338.9 443.25,340.86 443.58,342.9 443.92,345 444.25,347.12 444.58,349.25 444.92,351.36 445.25,353.43 445.59,355.43 445.92,357.34 446.25,359.14 446.59,360.81 446.92,362.34 447.26,363.69 447.59,364.86 447.92,365.84 448.26,366.61 448.59,367.16 448.93,367.49 449.26,367.6 449.59,367.48 449.93,367.13 450.26,366.57 450.6,365.78 450.93,364.79 451.26,363.61 451.6,362.25 451.93,360.71 452.27,359.03 452.6,357.22 452.94,355.3 453.27,353.3 453.6,351.23 453.94,349.11 454.27,346.99 454.61,344.86 454.94,342.77 455.27,340.74 455.61,338.78 455.94,336.92 456.28,335.18 456.61,333.58 456.94,332.15 457.28,330.88 457.61,329.81 457.95,328.94 458.28,328.28 458.61,327.84 458.95,327.62 459.28,327.63 459.62,327.87 459.95,328.33 460.28,329.01 460.62,329.9 460.95,330.99 461.29,332.27 461.62,333.72 461.95,335.33 462.29,337.08 462.62,338.95 462.96,340.92 463.29,342.96 463.62,345.05 463.96,347.18 464.29,349.31 464.63,351.42 464.96,353.48 465.3,355.48 465.63,357.39 465.96,359.19 466.3,360.86 466.63,362.38 466.97,363.73 467.3,364.89 467.63,365.86 467.97,366.63 468.3,367.17 468.64,367.5 468.97,367.6 469.3,367.47 469.64,367.12 469.97,366.55 470.31,365.76 470.64,364.76 470.97,363.58 471.31,362.21 471.64,360.67 471.98,358.99 472.31,357.17 472.64,355.25 472.98,353.24 473.31,351.17 473.65,349.06 473.98,346.93 474.31,344.81 474.65,342.71 474.98,340.68 475.32,338.72 475.65,336.87 475.98,335.13 476.32,333.54 476.65,332.11 476.99,330.85 477.32,329.78 477.66,328.92 477.99,328.27 478.32,327.83 478.66,327.62 478.99,327.64 479.33,327.88 479.66,328.35 479.99,329.03 480.33,329.93 480.66,331.02 481,332.31 481.33,333.76 481.66,335.38 482,337.13 482.33,339 482.67,340.97 483,343.02" fill="none" stroke="#EE3B3B" stroke-width="1.7" stroke-linejoin="round" />
<polyline points="359.4,327.6 359.73,327.71 360.07,328.05 360.4,328.61 360.74,329.39 361.07,330.37 361.4,331.54 361.74,332.9 362.07,334.42 362.4,336.1 362.74,337.9 363.07,339.82 363.41,341.82 363.74,343.88 364.07,345.99 364.41,348.12 364.74,350.24 365.07,352.33 365.41,354.37 365.74,356.33 366.08,358.19 366.41,359.94 366.74,361.54 367.08,362.98 367.41,364.26 367.74,365.34 368.08,366.22 368.41,366.89 368.75,367.34 369.08,367.57 369.41,367.57 369.75,367.35 370.08,366.9 370.41,366.24 370.75,365.36 371.08,364.28 371.42,363.02 371.75,361.57 372.08,359.98 372.42,358.24 372.75,356.38 373.08,354.42 373.42,352.38 373.75,350.29 374.09,348.17 374.42,346.04 374.75,343.93 375.09,341.86 375.42,339.86 375.75,337.94 376.09,336.14 376.42,334.46 376.76,332.93 377.09,331.57 377.42,330.39 377.76,329.41 378.09,328.63 378.42,328.06 378.76,327.72 379.09,327.6 379.43,327.71 379.76,328.04 380.09,328.6 380.43,329.37 380.76,330.34 381.09,331.51 381.43,332.87 381.76,334.39 382.1,336.06 382.43,337.86 382.76,339.77 383.1,341.77 383.43,343.84 383.77,345.94 384.1,348.07 384.43,350.19 384.77,352.29 385.1,354.32 385.43,356.29 385.77,358.15 386.1,359.9 386.44,361.5 386.77,362.95 387.1,364.23 387.44,365.31 387.77,366.2 388.1,366.88 388.44,367.33 388.77,367.57 389.11,367.58 389.44,367.36 389.77,366.92 390.11,366.25 390.44,365.38 390.77,364.31 391.11,363.05 391.44,361.61 391.78,360.01 392.11,358.28 392.44,356.42 392.78,354.46 393.11,352.43 393.44,350.34 393.78,348.22 394.11,346.09 394.45,343.98 394.78,341.91 395.11,339.91 395.45,337.99 395.78,336.18 396.11,334.5 396.45,332.97 396.78,331.6 397.12,330.42 397.45,329.43 397.78,328.64 398.12,328.07 398.45,327.72 398.78,327.6 399.12,327.7 399.45,328.03 399.79,328.58 400.12,329.35 400.45,330.32 400.79,331.48 401.12,332.83 401.45,334.35 401.79,336.02 402.12,337.82 402.46,339.73 402.79,341.72 403.12,343.79 403.46,345.9 403.79,348.02 404.12,350.14 404.46,352.24 404.79,354.28 405.13,356.24 405.46,358.11 405.79,359.86 406.13,361.47 406.46,362.92 406.8,364.2 407.13,365.29 407.46,366.18 407.8,366.86 408.13,367.33 408.46,367.56 408.8,367.58 409.13,367.36 409.47,366.93 409.8,366.27 410.13,365.4 410.47,364.34 410.8,363.08 411.13,361.64 411.47,360.05 411.8,358.32 412.14,356.46 412.47,354.51 412.8,352.48 413.14,350.39 413.47,348.27 413.8,346.14 414.14,344.03 414.47,341.96 414.81,339.95 415.14,338.03 415.47,336.22 415.81,334.54 416.14,333 416.47,331.63 416.81,330.44 417.14,329.45 417.48,328.66 417.81,328.08 418.14,327.73 418.48,327.6 418.81,327.7 419.14,328.02 419.48,328.57 419.81,329.33 420.15,330.29 420.48,331.46 420.81,332.8 421.15,334.31 421.48,335.98 421.81,337.77 422.15,339.68 422.48,341.68 422.82,343.74 423.15,345.85 423.48,347.97 423.82,350.1 424.15,352.19 424.48,354.23 424.82,356.2 425.15,358.07 425.49,359.82 425.82,361.43 426.15,362.89 426.49,364.17 426.82,365.27 427.15,366.16 427.49,366.85 427.82,367.32 428.16,367.56 428.49,367.58 428.82,367.37 429.16,366.94 429.49,366.29 429.83,365.43 430.16,364.36 430.49,363.11 430.83,361.68 431.16,360.09 431.49,358.36 431.83,356.51 432.16,354.55 432.5,352.52 432.83,350.44 433.16,348.32 433.5,346.19 433.83,344.08 434.16,342 434.5,340 434.83,338.07 435.17,336.26 435.5,334.57 435.83,333.03 436.17,331.66 436.5,330.47 436.83,329.47 437.17,328.67 437.5,328.09 437.84,327.73 438.17,327.6 438.5,327.69 438.84,328.01 439.17,328.55 439.5,329.31 439.84,330.27 440.17,331.43 440.51,332.77 440.84,334.28 441.17,335.94 441.51,337.73 441.84,339.64 442.17,341.63 442.51,343.69 442.84,345.8 443.18,347.92 443.51,350.05 443.84,352.14 444.18,354.19 444.51,356.16 444.84,358.03 445.18,359.78 445.51,361.4 445.85,362.86 446.18,364.15 446.51,365.25 446.85,366.15 447.18,366.84 447.51,367.31 447.85,367.56 448.18,367.58 448.52,367.38 448.85,366.95 449.18,366.31 449.52,365.45 449.85,364.39 450.18,363.14 450.52,361.71 450.85,360.13 451.19,358.4 451.52,356.55 451.85,354.6 452.19,352.57 452.52,350.48 452.86,348.36 453.19,346.24 453.52,344.12 453.86,342.05 454.19,340.04 454.52,338.12 454.86,336.3 455.19,334.61 455.53,333.07 455.86,331.69 456.19,330.49 456.53,329.49 456.86,328.69 457.19,328.1 457.53,327.74 457.86,327.6 458.2,327.69 458.53,328 458.86,328.54 459.2,329.29 459.53,330.24 459.86,331.4 460.2,332.74 460.53,334.24 460.87,335.9 461.2,337.69 461.53,339.59 461.87,341.58 462.2,343.64 462.53,345.75 462.87,347.88 463.2,350 463.54,352.09 463.87,354.14 464.2,356.11 464.54,357.99 464.87,359.74 465.2,361.36 465.54,362.83 465.87,364.12 466.21,365.22 466.54,366.13 466.87,366.82 467.21,367.3 467.54,367.56 467.87,367.58 468.21,367.39 468.54,366.96 468.88,366.32 469.21,365.47 469.54,364.42 469.88,363.17 470.21,361.75 470.54,360.17 470.88,358.44 471.21,356.6 471.55,354.65 471.88,352.62 472.21,350.53 472.55,348.41 472.88,346.29 473.22,344.17 473.55,342.1 473.88,340.09 474.22,338.16 474.55,336.34 474.88,334.65 475.22,333.1 475.55,331.72 475.89,330.52 476.22,329.51 476.55,328.71 476.89,328.12 477.22,327.75 477.55,327.6 477.89,327.68 478.22,327.99 478.56,328.52 478.89,329.27 479.22,330.22 479.56,331.37 479.89,332.7 480.22,334.21 480.56,335.86 480.89,337.65 481.23,339.55 481.56,341.54 481.89,343.6 482.23,345.7 482.56,347.83 482.89,349.95 483.23,352.05 483.56,354.09 483.9,356.07 484.23,357.94 484.56,359.7 484.9,361.33 485.23,362.8 485.56,364.09 485.9,365.2 486.23,366.11 486.57,366.81 486.9,367.29 487.23,367.55 487.57,367.59 487.9,367.39 488.23,366.98 488.57,366.34 488.9,365.49 489.24,364.44 489.57,363.2 489.9,361.78 490.24,360.2 490.57,358.48 490.9,356.64 491.24,354.69 491.57,352.66 491.91,350.58 492.24,348.46 492.57,346.33 492.91,344.22 493.24,342.15 493.57,340.13 493.91,338.2 494.24,336.38 494.58,334.68 494.91,333.13 495.24,331.75 495.58,330.54 495.91,329.53 496.25,328.72 496.58,328.13 496.91,327.75 497.25,327.6 497.58,327.68 497.91,327.98 498.25,328.51 498.58,329.25 498.92,330.2 499.25,331.34 499.58,332.67 499.92,334.17 500.25,335.82 500.58,337.6 500.92,339.5 501.25,341.49 501.59,343.55 501.92,345.65 502.25,347.78 502.59,349.9 502.92,352 503.25,354.05 503.59,356.02 503.92,357.9 504.26,359.67 504.59,361.29 504.92,362.76 505.26,364.06 505.59,365.18 505.92,366.09 506.26,366.8 506.59,367.28 506.93,367.55 507.26,367.59 507.59,367.4 507.93,366.99 508.26,366.36 508.59,365.51 508.93,364.47 509.26,363.23 509.6,361.82 509.93,360.24 510.26,358.52 510.6,356.68 510.93,354.74 511.26,352.71 511.6,350.63 511.93,348.51 512.27,346.38 512.6,344.27 512.93,342.19 513.27,340.18 513.6,338.25 513.93,336.42 514.27,334.72 514.6,333.17 514.94,331.78 515.27,330.57 515.6,329.55 515.94,328.74 516.27,328.14 516.6,327.76 516.94,327.6 517.27,327.68 517.61,327.97 517.94,328.49 518.27,329.23 518.61,330.17 518.94,331.31 519.28,332.64 519.61,334.13 519.94,335.78 520.28,337.56 520.61,339.46 520.94,341.44 521.28,343.5 521.61,345.6 521.95,347.73 522.28,349.85 522.61,351.95 522.95,354 523.28,355.98 523.61,357.86 523.95,359.63 524.28,361.26 524.62,362.73 524.95,364.04 525.28,365.15 525.62,366.07 525.95,366.78 526.28,367.28 526.62,367.55 526.95,367.59 527.29,367.41 527.62,367 527.95,366.38 528.29,365.54 528.62,364.49 528.95,363.26 529.29,361.85 529.62,360.28 529.96,358.57 530.29,356.73 530.62,354.78 530.96,352.76 531.29,350.68 531.62,348.56 531.96,346.43 532.29,344.32 532.63,342.24 532.96,340.22 533.29,338.29 533.63,336.46 533.96,334.76 534.29,333.2 534.63,331.81 534.96,330.59 535.3,329.57 535.63,328.75 535.96,328.15 536.3,327.76 536.63,327.6 536.96,327.67 537.3,327.96 537.63,328.48 537.97,329.21 538.3,330.15 538.63,331.28 538.97,332.61 539.3,334.1 539.63,335.74 539.97,337.52 540.3,339.41 540.64,341.4 540.97,343.45 541.3,345.55 541.64,347.68 541.97,349.8 542.31,351.9 542.64,353.95 542.97,355.93 543.31,357.82 543.64,359.59 543.97,361.22 544.31,362.7 544.64,364.01 544.98,365.13 545.31,366.05 545.64,366.77 545.98,367.27 546.31,367.54 546.64,367.59 546.98,367.41 547.31,367.01 547.65,366.39 547.98,365.56 548.31,364.52 548.65,363.29 548.98,361.89 549.31,360.32 549.65,358.61 549.98,356.77 550.32,354.83 550.65,352.81 550.98,350.73 551.32,348.61 551.65,346.48 551.98,344.37 552.32,342.29 552.65,340.27 552.99,338.33 553.32,336.5 553.65,334.8 553.99,333.24 554.32,331.84 554.65,330.62 554.99,329.59 555.32,328.77 555.66,328.16 555.99,327.77 556.32,327.61 556.66,327.67 556.99,327.95 557.32,328.46 557.66,329.19 557.99,330.12 558.33,331.26 558.66,332.57 558.99,334.06 559.33,335.7 559.66,337.48 559.99,339.37 560.33,341.35 560.66,343.4 561,345.51 561.33,347.63 561.66,349.76 562,351.86 562.33,353.91 562.66,355.89 563,357.78 563.33,359.55 563.67,361.18 564,362.67" fill="none" stroke="#3A5CC0" stroke-width="1.4" stroke-linejoin="round" />
<rect x="438.35" y="339.55" width="2.9" height="2.9" fill="#E00000"/>
<rect x="515.65" y="339.75" width="2.9" height="2.9" fill="#1F3C9C"/>
</g>
<rect x="350.5" y="280.5" width="224" height="114" fill="none" stroke="#444" stroke-width="1"/>
<text stroke="#111" stroke-width="0.07" x="477.2" y="407.0" font-size="7" font-family="Liberation Sans, sans-serif" fill="#111" text-anchor="middle">Time (s)</text>
<rect x="510.3" y="14.5" width="61.9" height="37.8" rx="1" fill="#fff" fill-opacity="0.85" stroke="#d6d6d6" stroke-width="0.5"/>
<line x1="511.8" x2="520.7" y1="18.2" y2="18.2" stroke="#C69E4C" stroke-width="1.35"/>
<text x="521.4" y="18.2" font-size="4.85" font-family="Liberation Sans, sans-serif" fill="#111" dominant-baseline="central">input signal</text>
<line x1="511.8" x2="520.7" y1="24.05" y2="24.05" stroke="#111" stroke-width="1.6"/>
<text x="521.4" y="24.05" font-size="4.85" font-family="Liberation Sans, sans-serif" fill="#111" dominant-baseline="central">ground truth</text>
<line x1="511.8" x2="520.7" y1="29.9" y2="29.9" stroke="#EE3B3B" stroke-width="1.35"/>
<text x="521.4" y="29.9" font-size="4.85" font-family="Liberation Sans, sans-serif" fill="#111" dominant-baseline="central">original filter</text>
<line x1="511.8" x2="520.7" y1="35.75" y2="35.75" stroke="#2C8FE0" stroke-width="1.35"/>
<text x="521.4" y="35.75" font-size="4.85" font-family="Liberation Sans, sans-serif" fill="#111" dominant-baseline="central">optimized filter</text>
<rect x="514.7" y="40.3" width="2.6" height="2.6" fill="#E00000"/>
<text x="521.4" y="41.6" font-size="4.85" font-family="Liberation Sans, sans-serif" fill="#111" dominant-baseline="central">forecasted peak orig</text>
<rect x="514.7" y="46.15" width="2.6" height="2.6" fill="#1F3C9C"/>
<text x="521.4" y="47.45" font-size="4.85" font-family="Liberation Sans, sans-serif" fill="#111" dominant-baseline="central">forecasted peak optim</text>
<rect x="510" y="146.6" width="61.9" height="48" rx="1" fill="#fff" fill-opacity="0.85" stroke="#d6d6d6" stroke-width="0.5"/>
<line x1="511" x2="520.5" y1="150" y2="150" stroke="#C69E4C" stroke-width="1.35"/>
<text x="522" y="150" font-size="4.85" font-family="Liberation Sans, sans-serif" fill="#111" dominant-baseline="central">input signal</text>
<line x1="511" x2="520.5" y1="155.85" y2="155.85" stroke="#111" stroke-width="1.6"/>
<text x="522" y="155.85" font-size="4.85" font-family="Liberation Sans, sans-serif" fill="#111" dominant-baseline="central">ground truth</text>
<line x1="511" x2="520.5" y1="161.7" y2="161.7" stroke="#EE3B3B" stroke-width="1.35"/>
<text x="522" y="161.7" font-size="4.85" font-family="Liberation Sans, sans-serif" fill="#111" dominant-baseline="central">original filter</text>
<line x1="511" x2="520.5" y1="167.55" y2="167.55" stroke="#2C8FE0" stroke-width="1.35"/>
<text x="522" y="167.55" font-size="4.85" font-family="Liberation Sans, sans-serif" fill="#111" dominant-baseline="central">optimized filter</text>
<line x1="511" x2="520.5" y1="173.4" y2="173.4" stroke="#EE3B3B" stroke-width="1.35"/>
<text x="522" y="173.4" font-size="4.85" font-family="Liberation Sans, sans-serif" fill="#111" dominant-baseline="central">original forecasted</text>
<line x1="511" x2="520.5" y1="179.25" y2="179.25" stroke="#2F4FB0" stroke-width="1.35"/>
<text x="522" y="179.25" font-size="4.85" font-family="Liberation Sans, sans-serif" fill="#111" dominant-baseline="central">optimized forecasted</text>
<rect x="514.1" y="183.8" width="2.6" height="2.6" fill="#E00000"/>
<text x="522" y="185.1" font-size="4.85" font-family="Liberation Sans, sans-serif" fill="#111" dominant-baseline="central">forecasted peak orig</text>
<rect x="514.1" y="189.65" width="2.6" height="2.6" fill="#1F3C9C"/>
<text x="522" y="190.95" font-size="4.85" font-family="Liberation Sans, sans-serif" fill="#111" dominant-baseline="central">forecasted peak optim</text>
<rect x="506.6" y="283.8" width="62.4" height="37.9" rx="1" fill="#fff" fill-opacity="0.85" stroke="#d6d6d6" stroke-width="0.5"/>
<line x1="508" x2="517.3" y1="286.4" y2="286.4" stroke="#C69E4C" stroke-width="1.35"/>
<text x="517.9" y="286.4" font-size="4.85" font-family="Liberation Sans, sans-serif" fill="#111" dominant-baseline="central">input signal</text>
<line x1="508" x2="517.3" y1="292.6" y2="292.6" stroke="#111" stroke-width="1.6"/>
<text x="517.9" y="292.6" font-size="4.85" font-family="Liberation Sans, sans-serif" fill="#111" dominant-baseline="central">ground truth</text>
<line x1="508" x2="517.3" y1="298.8" y2="298.8" stroke="#EE3B3B" stroke-width="1.35"/>
<text x="517.9" y="298.8" font-size="4.85" font-family="Liberation Sans, sans-serif" fill="#111" dominant-baseline="central">original forecasted</text>
<line x1="508" x2="517.3" y1="305" y2="305" stroke="#3A5CC0" stroke-width="1.35"/>
<text x="517.9" y="305" font-size="4.85" font-family="Liberation Sans, sans-serif" fill="#111" dominant-baseline="central">optimized forecasted</text>
<rect x="511.2" y="309.9" width="2.6" height="2.6" fill="#E00000"/>
<text x="517.9" y="311.2" font-size="4.85" font-family="Liberation Sans, sans-serif" fill="#111" dominant-baseline="central">forecasted peak orig</text>
<rect x="511.2" y="316.1" width="2.6" height="2.6" fill="#1F3C9C"/>
<text x="517.9" y="317.4" font-size="4.85" font-family="Liberation Sans, sans-serif" fill="#111" dominant-baseline="central">forecasted peak optim</text>
</svg>
</body></html>
